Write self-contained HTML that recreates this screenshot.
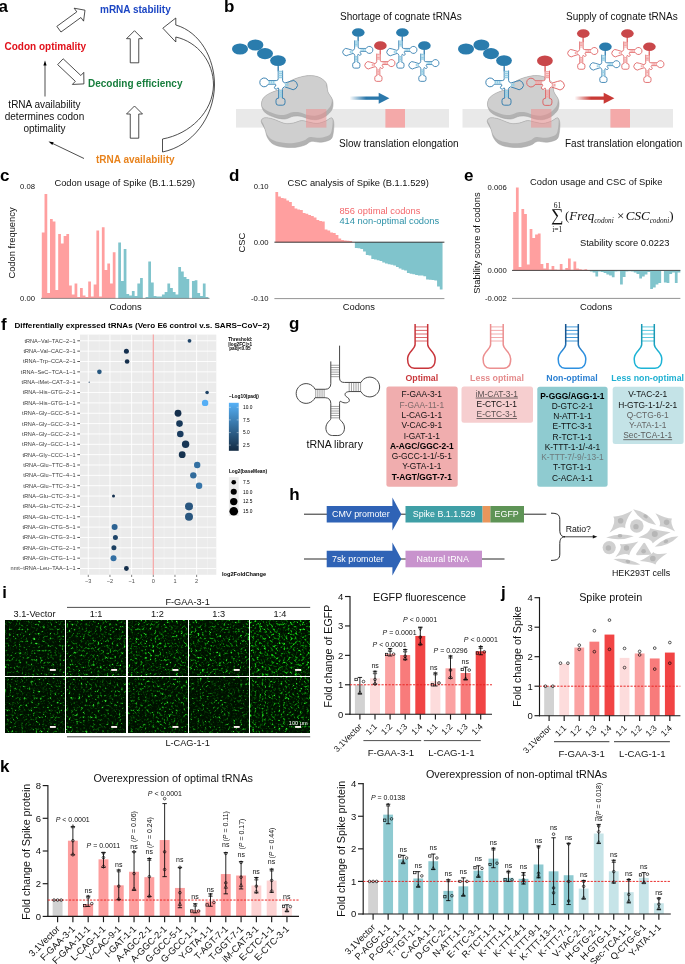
<!DOCTYPE html>
<html><head><meta charset="utf-8"><title>Figure</title>
<style>html,body{margin:0;padding:0;background:#fff;}svg{display:block}text{font-family:"Liberation Sans",sans-serif;}</style>
</head><body>
<svg width="685" height="964" viewBox="0 0 685 964">
<rect width="685" height="964" fill="#fff"/>
<text x="-1.50" y="12.00" font-size="17" font-weight="bold">a</text>
<text x="100.00" y="13.40" font-size="10" font-weight="bold" fill="#1c46c4">mRNA stability</text>
<text x="4.50" y="49.50" font-size="10" font-weight="bold" fill="#e1111b">Codon optimality</text>
<text x="88.00" y="86.60" font-size="10" font-weight="bold" fill="#167d3c">Decoding efficiency</text>
<text x="96.00" y="162.50" font-size="10" font-weight="bold" fill="#e8831d">tRNA availability</text>
<text x="44.50" y="108.40" font-size="10" fill="#111" text-anchor="middle">tRNA availability</text>
<text x="44.50" y="120.40" font-size="10" fill="#111" text-anchor="middle">determines codon</text>
<text x="44.50" y="132.40" font-size="10" fill="#111" text-anchor="middle">optimality</text>
<polygon points="60.96,32.03 80.92,17.50 83.56,21.14 85.00,10.20 74.15,8.21 76.80,11.84 56.84,26.37" fill="#fff" stroke="#222" stroke-width="0.8"/>
<polygon points="57.65,64.61 75.34,81.31 72.38,84.44 83.90,83.90 83.78,72.37 80.83,75.50 63.15,58.79" fill="#fff" stroke="#222" stroke-width="0.8"/>
<polygon points="138.75,62.80 138.75,38.70 142.50,38.70 134.50,30.70 126.50,38.70 130.25,38.70 130.25,62.80" fill="#fff" stroke="#222" stroke-width="0.8"/>
<polygon points="138.75,138.20 138.75,114.00 142.50,114.00 134.50,106.00 126.50,114.00 130.25,114.00 130.25,138.20" fill="#fff" stroke="#222" stroke-width="0.8"/>
<line x1="45.00" y1="96.50" x2="45.00" y2="64.50" stroke="#000" stroke-width="0.7"/>
<polygon points="45.00,60.50 46.60,65.50 43.40,65.50" fill="#000"/>
<line x1="84.00" y1="158.50" x2="52.11" y2="143.23" stroke="#000" stroke-width="0.7"/>
<polygon points="48.50,141.50 53.70,142.22 52.32,145.10" fill="#000"/>
<path d="M162.5,139 C190,134 213,112 213.5,85 C213.5,62 198,42 175.8,37 L175.8,42 L162.8,28.2 L175.8,18 L175.8,25 C200,32 214.5,58 214.5,85 C214,118 192,146 162.5,152 Z" fill="#fff" stroke="#222" stroke-width="0.8" stroke-linejoin="miter"/>
<text x="224.00" y="12.00" font-size="17" font-weight="bold">b</text>
<defs>
<linearGradient id="ribg" x1="0" y1="0" x2="0.25" y2="1"><stop offset="0" stop-color="#d0d0d0"/><stop offset="0.72" stop-color="#cccccc"/><stop offset="0.9" stop-color="#b4b4b4"/><stop offset="1" stop-color="#a8a8a8"/></linearGradient>
<linearGradient id="ribg2" x1="0" y1="0" x2="0.2" y2="1"><stop offset="0" stop-color="#cfcfcf"/><stop offset="0.7" stop-color="#cacaca"/><stop offset="0.92" stop-color="#b2b2b2"/><stop offset="1" stop-color="#a6a6a6"/></linearGradient>
<linearGradient id="barr" x1="0" y1="0" x2="1" y2="0"><stop offset="0" stop-color="#2b78ab" stop-opacity="0"/><stop offset="0.55" stop-color="#2b78ab" stop-opacity="1"/></linearGradient>
<linearGradient id="rarr" x1="0" y1="0" x2="1" y2="0"><stop offset="0" stop-color="#c93a36" stop-opacity="0"/><stop offset="0.55" stop-color="#c93a36" stop-opacity="1"/></linearGradient>
</defs>
<rect x="236.00" y="109.00" width="213.00" height="18.60" fill="#e9e9e9"/>
<clipPath id="rcbig0"><path d="M261.60,106.00C261.17,103.60 261.70,100.70 263.00,98.60C264.30,96.50 266.40,95.07 269.40,93.40C272.40,91.73 277.40,90.73 281.00,88.60C284.60,86.47 287.00,82.70 291.00,80.60C295.00,78.50 300.60,76.67 305.00,76.00C309.40,75.33 313.90,75.50 317.40,76.60C320.90,77.70 324.23,80.03 326.00,82.60C327.77,85.17 326.90,89.10 328.00,92.00C329.10,94.90 331.90,97.17 332.60,100.00C333.30,102.83 333.30,106.33 332.20,109.00C331.10,111.67 328.47,114.23 326.00,116.00C323.53,117.77 320.23,119.10 317.40,119.60C314.57,120.10 311.67,119.53 309.00,119.00C306.33,118.47 304.00,116.87 301.40,116.40C298.80,115.93 296.13,115.77 293.40,116.20C290.67,116.63 288.07,118.80 285.00,119.00C281.93,119.20 278.23,118.40 275.00,117.40C271.77,116.40 267.83,114.90 265.60,113.00C263.37,111.10 262.03,108.40 261.60,106.00Z"/></clipPath>
<path d="M261.60,106.00C261.17,103.60 261.70,100.70 263.00,98.60C264.30,96.50 266.40,95.07 269.40,93.40C272.40,91.73 277.40,90.73 281.00,88.60C284.60,86.47 287.00,82.70 291.00,80.60C295.00,78.50 300.60,76.67 305.00,76.00C309.40,75.33 313.90,75.50 317.40,76.60C320.90,77.70 324.23,80.03 326.00,82.60C327.77,85.17 326.90,89.10 328.00,92.00C329.10,94.90 331.90,97.17 332.60,100.00C333.30,102.83 333.30,106.33 332.20,109.00C331.10,111.67 328.47,114.23 326.00,116.00C323.53,117.77 320.23,119.10 317.40,119.60C314.57,120.10 311.67,119.53 309.00,119.00C306.33,118.47 304.00,116.87 301.40,116.40C298.80,115.93 296.13,115.77 293.40,116.20C290.67,116.63 288.07,118.80 285.00,119.00C281.93,119.20 278.23,118.40 275.00,117.40C271.77,116.40 267.83,114.90 265.60,113.00C263.37,111.10 262.03,108.40 261.60,106.00Z" fill="#b2b2b2"/>
<g clip-path="url(#rcbig0)"><path d="M261.60,106.00C261.17,103.60 261.70,100.70 263.00,98.60C264.30,96.50 266.40,95.07 269.40,93.40C272.40,91.73 277.40,90.73 281.00,88.60C284.60,86.47 287.00,82.70 291.00,80.60C295.00,78.50 300.60,76.67 305.00,76.00C309.40,75.33 313.90,75.50 317.40,76.60C320.90,77.70 324.23,80.03 326.00,82.60C327.77,85.17 326.90,89.10 328.00,92.00C329.10,94.90 331.90,97.17 332.60,100.00C333.30,102.83 333.30,106.33 332.20,109.00C331.10,111.67 328.47,114.23 326.00,116.00C323.53,117.77 320.23,119.10 317.40,119.60C314.57,120.10 311.67,119.53 309.00,119.00C306.33,118.47 304.00,116.87 301.40,116.40C298.80,115.93 296.13,115.77 293.40,116.20C290.67,116.63 288.07,118.80 285.00,119.00C281.93,119.20 278.23,118.40 275.00,117.40C271.77,116.40 267.83,114.90 265.60,113.00C263.37,111.10 262.03,108.40 261.60,106.00Z" fill="#cfcfcf" transform="translate(-1.2 -4.0)"/></g>
<path d="M261.60,106.00C261.17,103.60 261.70,100.70 263.00,98.60C264.30,96.50 266.40,95.07 269.40,93.40C272.40,91.73 277.40,90.73 281.00,88.60C284.60,86.47 287.00,82.70 291.00,80.60C295.00,78.50 300.60,76.67 305.00,76.00C309.40,75.33 313.90,75.50 317.40,76.60C320.90,77.70 324.23,80.03 326.00,82.60C327.77,85.17 326.90,89.10 328.00,92.00C329.10,94.90 331.90,97.17 332.60,100.00C333.30,102.83 333.30,106.33 332.20,109.00C331.10,111.67 328.47,114.23 326.00,116.00C323.53,117.77 320.23,119.10 317.40,119.60C314.57,120.10 311.67,119.53 309.00,119.00C306.33,118.47 304.00,116.87 301.40,116.40C298.80,115.93 296.13,115.77 293.40,116.20C290.67,116.63 288.07,118.80 285.00,119.00C281.93,119.20 278.23,118.40 275.00,117.40C271.77,116.40 267.83,114.90 265.60,113.00C263.37,111.10 262.03,108.40 261.60,106.00Z" fill="none" stroke="#a0a0a0" stroke-width="0.5"/>
<clipPath id="rcsmall0"><path d="M261.20,121.40C261.13,119.47 262.63,118.20 264.60,117.80C266.57,117.40 269.67,118.07 273.00,119.00C276.33,119.93 281.20,122.73 284.60,123.40C288.00,124.07 290.53,123.47 293.40,123.00C296.27,122.53 299.13,120.73 301.80,120.60C304.47,120.47 306.80,121.73 309.40,122.20C312.00,122.67 314.70,123.60 317.40,123.40C320.10,123.20 323.27,121.93 325.60,121.00C327.93,120.07 330.03,117.53 331.40,117.80C332.77,118.07 333.50,120.07 333.80,122.60C334.10,125.13 333.73,130.20 333.20,133.00C332.67,135.80 332.63,137.87 330.60,139.40C328.57,140.93 324.20,141.87 321.00,142.20C317.80,142.53 314.07,140.93 311.40,141.40C308.73,141.87 307.73,144.00 305.00,145.00C302.27,146.00 298.67,147.07 295.00,147.40C291.33,147.73 286.67,147.57 283.00,147.00C279.33,146.43 275.60,145.60 273.00,144.00C270.40,142.40 268.73,139.83 267.40,137.40C266.07,134.97 266.03,132.07 265.00,129.40C263.97,126.73 261.27,123.33 261.20,121.40Z"/></clipPath>
<path d="M261.20,121.40C261.13,119.47 262.63,118.20 264.60,117.80C266.57,117.40 269.67,118.07 273.00,119.00C276.33,119.93 281.20,122.73 284.60,123.40C288.00,124.07 290.53,123.47 293.40,123.00C296.27,122.53 299.13,120.73 301.80,120.60C304.47,120.47 306.80,121.73 309.40,122.20C312.00,122.67 314.70,123.60 317.40,123.40C320.10,123.20 323.27,121.93 325.60,121.00C327.93,120.07 330.03,117.53 331.40,117.80C332.77,118.07 333.50,120.07 333.80,122.60C334.10,125.13 333.73,130.20 333.20,133.00C332.67,135.80 332.63,137.87 330.60,139.40C328.57,140.93 324.20,141.87 321.00,142.20C317.80,142.53 314.07,140.93 311.40,141.40C308.73,141.87 307.73,144.00 305.00,145.00C302.27,146.00 298.67,147.07 295.00,147.40C291.33,147.73 286.67,147.57 283.00,147.00C279.33,146.43 275.60,145.60 273.00,144.00C270.40,142.40 268.73,139.83 267.40,137.40C266.07,134.97 266.03,132.07 265.00,129.40C263.97,126.73 261.27,123.33 261.20,121.40Z" fill="#b2b2b2"/>
<g clip-path="url(#rcsmall0)"><path d="M261.20,121.40C261.13,119.47 262.63,118.20 264.60,117.80C266.57,117.40 269.67,118.07 273.00,119.00C276.33,119.93 281.20,122.73 284.60,123.40C288.00,124.07 290.53,123.47 293.40,123.00C296.27,122.53 299.13,120.73 301.80,120.60C304.47,120.47 306.80,121.73 309.40,122.20C312.00,122.67 314.70,123.60 317.40,123.40C320.10,123.20 323.27,121.93 325.60,121.00C327.93,120.07 330.03,117.53 331.40,117.80C332.77,118.07 333.50,120.07 333.80,122.60C334.10,125.13 333.73,130.20 333.20,133.00C332.67,135.80 332.63,137.87 330.60,139.40C328.57,140.93 324.20,141.87 321.00,142.20C317.80,142.53 314.07,140.93 311.40,141.40C308.73,141.87 307.73,144.00 305.00,145.00C302.27,146.00 298.67,147.07 295.00,147.40C291.33,147.73 286.67,147.57 283.00,147.00C279.33,146.43 275.60,145.60 273.00,144.00C270.40,142.40 268.73,139.83 267.40,137.40C266.07,134.97 266.03,132.07 265.00,129.40C263.97,126.73 261.27,123.33 261.20,121.40Z" fill="#cfcfcf" transform="translate(-1.2 -4.4)"/></g>
<path d="M261.20,121.40C261.13,119.47 262.63,118.20 264.60,117.80C266.57,117.40 269.67,118.07 273.00,119.00C276.33,119.93 281.20,122.73 284.60,123.40C288.00,124.07 290.53,123.47 293.40,123.00C296.27,122.53 299.13,120.73 301.80,120.60C304.47,120.47 306.80,121.73 309.40,122.20C312.00,122.67 314.70,123.60 317.40,123.40C320.10,123.20 323.27,121.93 325.60,121.00C327.93,120.07 330.03,117.53 331.40,117.80C332.77,118.07 333.50,120.07 333.80,122.60C334.10,125.13 333.73,130.20 333.20,133.00C332.67,135.80 332.63,137.87 330.60,139.40C328.57,140.93 324.20,141.87 321.00,142.20C317.80,142.53 314.07,140.93 311.40,141.40C308.73,141.87 307.73,144.00 305.00,145.00C302.27,146.00 298.67,147.07 295.00,147.40C291.33,147.73 286.67,147.57 283.00,147.00C279.33,146.43 275.60,145.60 273.00,144.00C270.40,142.40 268.73,139.83 267.40,137.40C266.07,134.97 266.03,132.07 265.00,129.40C263.97,126.73 261.27,123.33 261.20,121.40Z" fill="none" stroke="#a0a0a0" stroke-width="0.5"/>
<ellipse cx="240.00" cy="49.00" rx="8.00" ry="5.60" fill="#2a7cad"/>
<ellipse cx="255.40" cy="45.00" rx="8.00" ry="5.60" fill="#2a7cad"/>
<ellipse cx="265.00" cy="53.60" rx="8.00" ry="5.60" fill="#2a7cad"/>
<g transform="translate(280.50 83.40) scale(1.0 1.0)">
<line x1="-2.30" y1="-20.00" x2="-2.30" y2="-12.00" stroke="#2b78ab" stroke-width="0.9"/>
<path d="M-2.3,-8 L2.1,-8 L2.1,-3 L5,-0.5 L5,3.5 L1.9,6 L-1.8,6 L-5.5,5.5 L-6,3 L-5.2,0.8 L-5.2,-2.8 L-2.3,-4 Z" fill="#fff"/>
<path d="M-2.3,-17.2 L-2.3,-4.6 Q-2.3,-2.8 -4.2,-2.8 L-12.3,-2.8 A4.4,4.4 0 1 0 -12.3,0.8 L-5.2,0.8 Q-3.6,1.4 -5.2,2.6 Q-7,4.4 -5.2,5.6 Q-3.8,6.2 -2.6,4.6 Q-1.8,4.2 -1.8,5.8 L-1.8,14.8 L-2.4,14.8 Q-4.5,14.9 -4.5,17 L-4.5,19.4 Q-4.5,21.8 -2.2,21.8 L2.2,21.8 Q4.5,21.8 4.5,19.4 L4.5,17 Q4.5,14.9 2.4,14.8 L1.9,14.8 L1.9,6 Q2,4.2 4,3.4 L9.6,5.2 A4.5,4.5 0 1 0 10.2,-2.2 L4.4,-0.4 Q2.1,-1.2 2.1,-3 L2.1,-12.9" fill="none" stroke="#2b78ab" stroke-width="0.9" stroke-linejoin="round"/>
<line x1="-0.10" y1="-12.60" x2="-0.10" y2="-5.00" stroke="#96d0e6" stroke-width="3.7" stroke-dasharray="1.5 0.45"/>
<line x1="0.05" y1="6.60" x2="0.05" y2="14.40" stroke="#96d0e6" stroke-width="3.0" stroke-dasharray="1.5 0.45"/>
<line x1="-11.90" y1="-1.00" x2="-5.40" y2="-1.00" stroke="#96d0e6" stroke-width="2.9" stroke-dasharray="1.5 0.45"/>
<line x1="4.40" y1="1.50" x2="8.60" y2="1.50" stroke="#96d0e6" stroke-width="2.6" stroke-dasharray="1.5 0.45"/>
<ellipse cx="-2.50" cy="-22.80" rx="7.90" ry="5.40" fill="#2a7cad"/>
</g>
<rect x="306.00" y="109.00" width="20.40" height="18.60" fill="#f08a8a" opacity="0.5"/>
<rect x="385.40" y="109.00" width="19.60" height="18.60" fill="#f4a9a9"/>
<rect x="349.60" y="96.50" width="30.00" height="3.30" fill="url(#barr)"/>
<polygon points="378.70,92.70 389.40,98.20 378.70,103.70" fill="#2b78ab"/>
<rect x="462.50" y="109.00" width="210.50" height="18.60" fill="#e9e9e9"/>
<clipPath id="rcbig226"><path d="M487.60,106.00C487.17,103.60 487.70,100.70 489.00,98.60C490.30,96.50 492.40,95.07 495.40,93.40C498.40,91.73 503.40,90.73 507.00,88.60C510.60,86.47 513.00,82.70 517.00,80.60C521.00,78.50 526.60,76.67 531.00,76.00C535.40,75.33 539.90,75.50 543.40,76.60C546.90,77.70 550.23,80.03 552.00,82.60C553.77,85.17 552.90,89.10 554.00,92.00C555.10,94.90 557.90,97.17 558.60,100.00C559.30,102.83 559.30,106.33 558.20,109.00C557.10,111.67 554.47,114.23 552.00,116.00C549.53,117.77 546.23,119.10 543.40,119.60C540.57,120.10 537.67,119.53 535.00,119.00C532.33,118.47 530.00,116.87 527.40,116.40C524.80,115.93 522.13,115.77 519.40,116.20C516.67,116.63 514.07,118.80 511.00,119.00C507.93,119.20 504.23,118.40 501.00,117.40C497.77,116.40 493.83,114.90 491.60,113.00C489.37,111.10 488.03,108.40 487.60,106.00Z"/></clipPath>
<path d="M487.60,106.00C487.17,103.60 487.70,100.70 489.00,98.60C490.30,96.50 492.40,95.07 495.40,93.40C498.40,91.73 503.40,90.73 507.00,88.60C510.60,86.47 513.00,82.70 517.00,80.60C521.00,78.50 526.60,76.67 531.00,76.00C535.40,75.33 539.90,75.50 543.40,76.60C546.90,77.70 550.23,80.03 552.00,82.60C553.77,85.17 552.90,89.10 554.00,92.00C555.10,94.90 557.90,97.17 558.60,100.00C559.30,102.83 559.30,106.33 558.20,109.00C557.10,111.67 554.47,114.23 552.00,116.00C549.53,117.77 546.23,119.10 543.40,119.60C540.57,120.10 537.67,119.53 535.00,119.00C532.33,118.47 530.00,116.87 527.40,116.40C524.80,115.93 522.13,115.77 519.40,116.20C516.67,116.63 514.07,118.80 511.00,119.00C507.93,119.20 504.23,118.40 501.00,117.40C497.77,116.40 493.83,114.90 491.60,113.00C489.37,111.10 488.03,108.40 487.60,106.00Z" fill="#b2b2b2"/>
<g clip-path="url(#rcbig226)"><path d="M487.60,106.00C487.17,103.60 487.70,100.70 489.00,98.60C490.30,96.50 492.40,95.07 495.40,93.40C498.40,91.73 503.40,90.73 507.00,88.60C510.60,86.47 513.00,82.70 517.00,80.60C521.00,78.50 526.60,76.67 531.00,76.00C535.40,75.33 539.90,75.50 543.40,76.60C546.90,77.70 550.23,80.03 552.00,82.60C553.77,85.17 552.90,89.10 554.00,92.00C555.10,94.90 557.90,97.17 558.60,100.00C559.30,102.83 559.30,106.33 558.20,109.00C557.10,111.67 554.47,114.23 552.00,116.00C549.53,117.77 546.23,119.10 543.40,119.60C540.57,120.10 537.67,119.53 535.00,119.00C532.33,118.47 530.00,116.87 527.40,116.40C524.80,115.93 522.13,115.77 519.40,116.20C516.67,116.63 514.07,118.80 511.00,119.00C507.93,119.20 504.23,118.40 501.00,117.40C497.77,116.40 493.83,114.90 491.60,113.00C489.37,111.10 488.03,108.40 487.60,106.00Z" fill="#cfcfcf" transform="translate(-1.2 -4.0)"/></g>
<path d="M487.60,106.00C487.17,103.60 487.70,100.70 489.00,98.60C490.30,96.50 492.40,95.07 495.40,93.40C498.40,91.73 503.40,90.73 507.00,88.60C510.60,86.47 513.00,82.70 517.00,80.60C521.00,78.50 526.60,76.67 531.00,76.00C535.40,75.33 539.90,75.50 543.40,76.60C546.90,77.70 550.23,80.03 552.00,82.60C553.77,85.17 552.90,89.10 554.00,92.00C555.10,94.90 557.90,97.17 558.60,100.00C559.30,102.83 559.30,106.33 558.20,109.00C557.10,111.67 554.47,114.23 552.00,116.00C549.53,117.77 546.23,119.10 543.40,119.60C540.57,120.10 537.67,119.53 535.00,119.00C532.33,118.47 530.00,116.87 527.40,116.40C524.80,115.93 522.13,115.77 519.40,116.20C516.67,116.63 514.07,118.80 511.00,119.00C507.93,119.20 504.23,118.40 501.00,117.40C497.77,116.40 493.83,114.90 491.60,113.00C489.37,111.10 488.03,108.40 487.60,106.00Z" fill="none" stroke="#a0a0a0" stroke-width="0.5"/>
<clipPath id="rcsmall226"><path d="M487.20,121.40C487.13,119.47 488.63,118.20 490.60,117.80C492.57,117.40 495.67,118.07 499.00,119.00C502.33,119.93 507.20,122.73 510.60,123.40C514.00,124.07 516.53,123.47 519.40,123.00C522.27,122.53 525.13,120.73 527.80,120.60C530.47,120.47 532.80,121.73 535.40,122.20C538.00,122.67 540.70,123.60 543.40,123.40C546.10,123.20 549.27,121.93 551.60,121.00C553.93,120.07 556.03,117.53 557.40,117.80C558.77,118.07 559.50,120.07 559.80,122.60C560.10,125.13 559.73,130.20 559.20,133.00C558.67,135.80 558.63,137.87 556.60,139.40C554.57,140.93 550.20,141.87 547.00,142.20C543.80,142.53 540.07,140.93 537.40,141.40C534.73,141.87 533.73,144.00 531.00,145.00C528.27,146.00 524.67,147.07 521.00,147.40C517.33,147.73 512.67,147.57 509.00,147.00C505.33,146.43 501.60,145.60 499.00,144.00C496.40,142.40 494.73,139.83 493.40,137.40C492.07,134.97 492.03,132.07 491.00,129.40C489.97,126.73 487.27,123.33 487.20,121.40Z"/></clipPath>
<path d="M487.20,121.40C487.13,119.47 488.63,118.20 490.60,117.80C492.57,117.40 495.67,118.07 499.00,119.00C502.33,119.93 507.20,122.73 510.60,123.40C514.00,124.07 516.53,123.47 519.40,123.00C522.27,122.53 525.13,120.73 527.80,120.60C530.47,120.47 532.80,121.73 535.40,122.20C538.00,122.67 540.70,123.60 543.40,123.40C546.10,123.20 549.27,121.93 551.60,121.00C553.93,120.07 556.03,117.53 557.40,117.80C558.77,118.07 559.50,120.07 559.80,122.60C560.10,125.13 559.73,130.20 559.20,133.00C558.67,135.80 558.63,137.87 556.60,139.40C554.57,140.93 550.20,141.87 547.00,142.20C543.80,142.53 540.07,140.93 537.40,141.40C534.73,141.87 533.73,144.00 531.00,145.00C528.27,146.00 524.67,147.07 521.00,147.40C517.33,147.73 512.67,147.57 509.00,147.00C505.33,146.43 501.60,145.60 499.00,144.00C496.40,142.40 494.73,139.83 493.40,137.40C492.07,134.97 492.03,132.07 491.00,129.40C489.97,126.73 487.27,123.33 487.20,121.40Z" fill="#b2b2b2"/>
<g clip-path="url(#rcsmall226)"><path d="M487.20,121.40C487.13,119.47 488.63,118.20 490.60,117.80C492.57,117.40 495.67,118.07 499.00,119.00C502.33,119.93 507.20,122.73 510.60,123.40C514.00,124.07 516.53,123.47 519.40,123.00C522.27,122.53 525.13,120.73 527.80,120.60C530.47,120.47 532.80,121.73 535.40,122.20C538.00,122.67 540.70,123.60 543.40,123.40C546.10,123.20 549.27,121.93 551.60,121.00C553.93,120.07 556.03,117.53 557.40,117.80C558.77,118.07 559.50,120.07 559.80,122.60C560.10,125.13 559.73,130.20 559.20,133.00C558.67,135.80 558.63,137.87 556.60,139.40C554.57,140.93 550.20,141.87 547.00,142.20C543.80,142.53 540.07,140.93 537.40,141.40C534.73,141.87 533.73,144.00 531.00,145.00C528.27,146.00 524.67,147.07 521.00,147.40C517.33,147.73 512.67,147.57 509.00,147.00C505.33,146.43 501.60,145.60 499.00,144.00C496.40,142.40 494.73,139.83 493.40,137.40C492.07,134.97 492.03,132.07 491.00,129.40C489.97,126.73 487.27,123.33 487.20,121.40Z" fill="#cfcfcf" transform="translate(-1.2 -4.4)"/></g>
<path d="M487.20,121.40C487.13,119.47 488.63,118.20 490.60,117.80C492.57,117.40 495.67,118.07 499.00,119.00C502.33,119.93 507.20,122.73 510.60,123.40C514.00,124.07 516.53,123.47 519.40,123.00C522.27,122.53 525.13,120.73 527.80,120.60C530.47,120.47 532.80,121.73 535.40,122.20C538.00,122.67 540.70,123.60 543.40,123.40C546.10,123.20 549.27,121.93 551.60,121.00C553.93,120.07 556.03,117.53 557.40,117.80C558.77,118.07 559.50,120.07 559.80,122.60C560.10,125.13 559.73,130.20 559.20,133.00C558.67,135.80 558.63,137.87 556.60,139.40C554.57,140.93 550.20,141.87 547.00,142.20C543.80,142.53 540.07,140.93 537.40,141.40C534.73,141.87 533.73,144.00 531.00,145.00C528.27,146.00 524.67,147.07 521.00,147.40C517.33,147.73 512.67,147.57 509.00,147.00C505.33,146.43 501.60,145.60 499.00,144.00C496.40,142.40 494.73,139.83 493.40,137.40C492.07,134.97 492.03,132.07 491.00,129.40C489.97,126.73 487.27,123.33 487.20,121.40Z" fill="none" stroke="#a0a0a0" stroke-width="0.5"/>
<ellipse cx="466.00" cy="49.00" rx="8.00" ry="5.60" fill="#2a7cad"/>
<ellipse cx="481.40" cy="45.00" rx="8.00" ry="5.60" fill="#2a7cad"/>
<ellipse cx="491.00" cy="53.60" rx="8.00" ry="5.60" fill="#2a7cad"/>
<g transform="translate(547.40 83.60) scale(1.0 1.0)">
<line x1="-2.30" y1="-20.00" x2="-2.30" y2="-12.00" stroke="#de5b5c" stroke-width="0.9"/>
<path d="M-2.3,-8 L2.1,-8 L2.1,-3 L5,-0.5 L5,3.5 L1.9,6 L-1.8,6 L-5.5,5.5 L-6,3 L-5.2,0.8 L-5.2,-2.8 L-2.3,-4 Z" fill="#fff"/>
<path d="M-2.3,-17.2 L-2.3,-4.6 Q-2.3,-2.8 -4.2,-2.8 L-12.3,-2.8 A4.4,4.4 0 1 0 -12.3,0.8 L-5.2,0.8 Q-3.6,1.4 -5.2,2.6 Q-7,4.4 -5.2,5.6 Q-3.8,6.2 -2.6,4.6 Q-1.8,4.2 -1.8,5.8 L-1.8,14.8 L-2.4,14.8 Q-4.5,14.9 -4.5,17 L-4.5,19.4 Q-4.5,21.8 -2.2,21.8 L2.2,21.8 Q4.5,21.8 4.5,19.4 L4.5,17 Q4.5,14.9 2.4,14.8 L1.9,14.8 L1.9,6 Q2,4.2 4,3.4 L9.6,5.2 A4.5,4.5 0 1 0 10.2,-2.2 L4.4,-0.4 Q2.1,-1.2 2.1,-3 L2.1,-12.9" fill="none" stroke="#de5b5c" stroke-width="0.9" stroke-linejoin="round"/>
<line x1="-0.10" y1="-12.60" x2="-0.10" y2="-5.00" stroke="#f3a9a9" stroke-width="3.7" stroke-dasharray="1.5 0.45"/>
<line x1="0.05" y1="6.60" x2="0.05" y2="14.40" stroke="#f3a9a9" stroke-width="3.0" stroke-dasharray="1.5 0.45"/>
<line x1="-11.90" y1="-1.00" x2="-5.40" y2="-1.00" stroke="#f3a9a9" stroke-width="2.9" stroke-dasharray="1.5 0.45"/>
<line x1="4.40" y1="1.50" x2="8.60" y2="1.50" stroke="#f3a9a9" stroke-width="2.6" stroke-dasharray="1.5 0.45"/>
<ellipse cx="-2.50" cy="-22.80" rx="7.90" ry="5.40" fill="#c9474a"/>
</g>
<g transform="translate(506.50 83.40) scale(1.0 1.0)">
<line x1="-2.30" y1="-20.00" x2="-2.30" y2="-12.00" stroke="#2b78ab" stroke-width="0.9"/>
<path d="M-2.3,-8 L2.1,-8 L2.1,-3 L5,-0.5 L5,3.5 L1.9,6 L-1.8,6 L-5.5,5.5 L-6,3 L-5.2,0.8 L-5.2,-2.8 L-2.3,-4 Z" fill="#fff"/>
<path d="M-2.3,-17.2 L-2.3,-4.6 Q-2.3,-2.8 -4.2,-2.8 L-12.3,-2.8 A4.4,4.4 0 1 0 -12.3,0.8 L-5.2,0.8 Q-3.6,1.4 -5.2,2.6 Q-7,4.4 -5.2,5.6 Q-3.8,6.2 -2.6,4.6 Q-1.8,4.2 -1.8,5.8 L-1.8,14.8 L-2.4,14.8 Q-4.5,14.9 -4.5,17 L-4.5,19.4 Q-4.5,21.8 -2.2,21.8 L2.2,21.8 Q4.5,21.8 4.5,19.4 L4.5,17 Q4.5,14.9 2.4,14.8 L1.9,14.8 L1.9,6 Q2,4.2 4,3.4 L9.6,5.2 A4.5,4.5 0 1 0 10.2,-2.2 L4.4,-0.4 Q2.1,-1.2 2.1,-3 L2.1,-12.9" fill="none" stroke="#2b78ab" stroke-width="0.9" stroke-linejoin="round"/>
<line x1="-0.10" y1="-12.60" x2="-0.10" y2="-5.00" stroke="#96d0e6" stroke-width="3.7" stroke-dasharray="1.5 0.45"/>
<line x1="0.05" y1="6.60" x2="0.05" y2="14.40" stroke="#96d0e6" stroke-width="3.0" stroke-dasharray="1.5 0.45"/>
<line x1="-11.90" y1="-1.00" x2="-5.40" y2="-1.00" stroke="#96d0e6" stroke-width="2.9" stroke-dasharray="1.5 0.45"/>
<line x1="4.40" y1="1.50" x2="8.60" y2="1.50" stroke="#96d0e6" stroke-width="2.6" stroke-dasharray="1.5 0.45"/>
<ellipse cx="-2.50" cy="-22.80" rx="7.90" ry="5.40" fill="#2a7cad"/>
</g>
<rect x="531.00" y="109.00" width="20.40" height="18.60" fill="#f08a8a" opacity="0.5"/>
<rect x="610.40" y="109.00" width="19.60" height="18.60" fill="#f4a9a9"/>
<rect x="574.60" y="96.50" width="30.00" height="3.30" fill="url(#rarr)"/>
<polygon points="603.70,92.70 614.40,98.20 603.70,103.70" fill="#c93a36"/>
<g transform="translate(356.30 50.70) scale(-0.8 0.8)">
<line x1="-2.30" y1="-20.00" x2="-2.30" y2="-12.00" stroke="#2b78ab" stroke-width="1.05"/>
<path d="M-2.3,-8 L2.1,-8 L2.1,-3 L5,-0.5 L5,3.5 L1.9,6 L-1.8,6 L-5.5,5.5 L-6,3 L-5.2,0.8 L-5.2,-2.8 L-2.3,-4 Z" fill="#fff"/>
<path d="M-2.3,-17.2 L-2.3,-4.6 Q-2.3,-2.8 -4.2,-2.8 L-12.3,-2.8 A4.4,4.4 0 1 0 -12.3,0.8 L-5.2,0.8 Q-3.6,1.4 -5.2,2.6 Q-7,4.4 -5.2,5.6 Q-3.8,6.2 -2.6,4.6 Q-1.8,4.2 -1.8,5.8 L-1.8,14.8 L-2.4,14.8 Q-4.5,14.9 -4.5,17 L-4.5,19.4 Q-4.5,21.8 -2.2,21.8 L2.2,21.8 Q4.5,21.8 4.5,19.4 L4.5,17 Q4.5,14.9 2.4,14.8 L1.9,14.8 L1.9,6 Q2,4.2 4,3.4 L9.6,5.2 A4.5,4.5 0 1 0 10.2,-2.2 L4.4,-0.4 Q2.1,-1.2 2.1,-3 L2.1,-12.9" fill="none" stroke="#2b78ab" stroke-width="1.05" stroke-linejoin="round"/>
<line x1="-0.10" y1="-12.60" x2="-0.10" y2="-5.00" stroke="#96d0e6" stroke-width="3.7" stroke-dasharray="1.5 0.45"/>
<line x1="0.05" y1="6.60" x2="0.05" y2="14.40" stroke="#96d0e6" stroke-width="3.0" stroke-dasharray="1.5 0.45"/>
<line x1="-11.90" y1="-1.00" x2="-5.40" y2="-1.00" stroke="#96d0e6" stroke-width="2.9" stroke-dasharray="1.5 0.45"/>
<line x1="4.40" y1="1.50" x2="8.60" y2="1.50" stroke="#96d0e6" stroke-width="2.6" stroke-dasharray="1.5 0.45"/>
<ellipse cx="-2.50" cy="-22.80" rx="7.90" ry="5.40" fill="#2a7cad"/>
</g>
<g transform="translate(378.40 63.90) scale(-0.8 0.8)">
<line x1="-2.30" y1="-20.00" x2="-2.30" y2="-12.00" stroke="#de5b5c" stroke-width="1.05"/>
<path d="M-2.3,-8 L2.1,-8 L2.1,-3 L5,-0.5 L5,3.5 L1.9,6 L-1.8,6 L-5.5,5.5 L-6,3 L-5.2,0.8 L-5.2,-2.8 L-2.3,-4 Z" fill="#fff"/>
<path d="M-2.3,-17.2 L-2.3,-4.6 Q-2.3,-2.8 -4.2,-2.8 L-12.3,-2.8 A4.4,4.4 0 1 0 -12.3,0.8 L-5.2,0.8 Q-3.6,1.4 -5.2,2.6 Q-7,4.4 -5.2,5.6 Q-3.8,6.2 -2.6,4.6 Q-1.8,4.2 -1.8,5.8 L-1.8,14.8 L-2.4,14.8 Q-4.5,14.9 -4.5,17 L-4.5,19.4 Q-4.5,21.8 -2.2,21.8 L2.2,21.8 Q4.5,21.8 4.5,19.4 L4.5,17 Q4.5,14.9 2.4,14.8 L1.9,14.8 L1.9,6 Q2,4.2 4,3.4 L9.6,5.2 A4.5,4.5 0 1 0 10.2,-2.2 L4.4,-0.4 Q2.1,-1.2 2.1,-3 L2.1,-12.9" fill="none" stroke="#de5b5c" stroke-width="1.05" stroke-linejoin="round"/>
<line x1="-0.10" y1="-12.60" x2="-0.10" y2="-5.00" stroke="#f3a9a9" stroke-width="3.7" stroke-dasharray="1.5 0.45"/>
<line x1="0.05" y1="6.60" x2="0.05" y2="14.40" stroke="#f3a9a9" stroke-width="3.0" stroke-dasharray="1.5 0.45"/>
<line x1="-11.90" y1="-1.00" x2="-5.40" y2="-1.00" stroke="#f3a9a9" stroke-width="2.9" stroke-dasharray="1.5 0.45"/>
<line x1="4.40" y1="1.50" x2="8.60" y2="1.50" stroke="#f3a9a9" stroke-width="2.6" stroke-dasharray="1.5 0.45"/>
<ellipse cx="-2.50" cy="-22.80" rx="7.90" ry="5.40" fill="#c9474a"/>
</g>
<g transform="translate(400.40 50.70) scale(-0.8 0.8)">
<line x1="-2.30" y1="-20.00" x2="-2.30" y2="-12.00" stroke="#2b78ab" stroke-width="1.05"/>
<path d="M-2.3,-8 L2.1,-8 L2.1,-3 L5,-0.5 L5,3.5 L1.9,6 L-1.8,6 L-5.5,5.5 L-6,3 L-5.2,0.8 L-5.2,-2.8 L-2.3,-4 Z" fill="#fff"/>
<path d="M-2.3,-17.2 L-2.3,-4.6 Q-2.3,-2.8 -4.2,-2.8 L-12.3,-2.8 A4.4,4.4 0 1 0 -12.3,0.8 L-5.2,0.8 Q-3.6,1.4 -5.2,2.6 Q-7,4.4 -5.2,5.6 Q-3.8,6.2 -2.6,4.6 Q-1.8,4.2 -1.8,5.8 L-1.8,14.8 L-2.4,14.8 Q-4.5,14.9 -4.5,17 L-4.5,19.4 Q-4.5,21.8 -2.2,21.8 L2.2,21.8 Q4.5,21.8 4.5,19.4 L4.5,17 Q4.5,14.9 2.4,14.8 L1.9,14.8 L1.9,6 Q2,4.2 4,3.4 L9.6,5.2 A4.5,4.5 0 1 0 10.2,-2.2 L4.4,-0.4 Q2.1,-1.2 2.1,-3 L2.1,-12.9" fill="none" stroke="#2b78ab" stroke-width="1.05" stroke-linejoin="round"/>
<line x1="-0.10" y1="-12.60" x2="-0.10" y2="-5.00" stroke="#96d0e6" stroke-width="3.7" stroke-dasharray="1.5 0.45"/>
<line x1="0.05" y1="6.60" x2="0.05" y2="14.40" stroke="#96d0e6" stroke-width="3.0" stroke-dasharray="1.5 0.45"/>
<line x1="-11.90" y1="-1.00" x2="-5.40" y2="-1.00" stroke="#96d0e6" stroke-width="2.9" stroke-dasharray="1.5 0.45"/>
<line x1="4.40" y1="1.50" x2="8.60" y2="1.50" stroke="#96d0e6" stroke-width="2.6" stroke-dasharray="1.5 0.45"/>
<ellipse cx="-2.50" cy="-22.80" rx="7.90" ry="5.40" fill="#2a7cad"/>
</g>
<g transform="translate(422.40 63.90) scale(-0.8 0.8)">
<line x1="-2.30" y1="-20.00" x2="-2.30" y2="-12.00" stroke="#2b78ab" stroke-width="1.05"/>
<path d="M-2.3,-8 L2.1,-8 L2.1,-3 L5,-0.5 L5,3.5 L1.9,6 L-1.8,6 L-5.5,5.5 L-6,3 L-5.2,0.8 L-5.2,-2.8 L-2.3,-4 Z" fill="#fff"/>
<path d="M-2.3,-17.2 L-2.3,-4.6 Q-2.3,-2.8 -4.2,-2.8 L-12.3,-2.8 A4.4,4.4 0 1 0 -12.3,0.8 L-5.2,0.8 Q-3.6,1.4 -5.2,2.6 Q-7,4.4 -5.2,5.6 Q-3.8,6.2 -2.6,4.6 Q-1.8,4.2 -1.8,5.8 L-1.8,14.8 L-2.4,14.8 Q-4.5,14.9 -4.5,17 L-4.5,19.4 Q-4.5,21.8 -2.2,21.8 L2.2,21.8 Q4.5,21.8 4.5,19.4 L4.5,17 Q4.5,14.9 2.4,14.8 L1.9,14.8 L1.9,6 Q2,4.2 4,3.4 L9.6,5.2 A4.5,4.5 0 1 0 10.2,-2.2 L4.4,-0.4 Q2.1,-1.2 2.1,-3 L2.1,-12.9" fill="none" stroke="#2b78ab" stroke-width="1.05" stroke-linejoin="round"/>
<line x1="-0.10" y1="-12.60" x2="-0.10" y2="-5.00" stroke="#96d0e6" stroke-width="3.7" stroke-dasharray="1.5 0.45"/>
<line x1="0.05" y1="6.60" x2="0.05" y2="14.40" stroke="#96d0e6" stroke-width="3.0" stroke-dasharray="1.5 0.45"/>
<line x1="-11.90" y1="-1.00" x2="-5.40" y2="-1.00" stroke="#96d0e6" stroke-width="2.9" stroke-dasharray="1.5 0.45"/>
<line x1="4.40" y1="1.50" x2="8.60" y2="1.50" stroke="#96d0e6" stroke-width="2.6" stroke-dasharray="1.5 0.45"/>
<ellipse cx="-2.50" cy="-22.80" rx="7.90" ry="5.40" fill="#2a7cad"/>
</g>
<g transform="translate(581.30 51.80) scale(-0.8 0.8)">
<line x1="-2.30" y1="-20.00" x2="-2.30" y2="-12.00" stroke="#de5b5c" stroke-width="1.05"/>
<path d="M-2.3,-8 L2.1,-8 L2.1,-3 L5,-0.5 L5,3.5 L1.9,6 L-1.8,6 L-5.5,5.5 L-6,3 L-5.2,0.8 L-5.2,-2.8 L-2.3,-4 Z" fill="#fff"/>
<path d="M-2.3,-17.2 L-2.3,-4.6 Q-2.3,-2.8 -4.2,-2.8 L-12.3,-2.8 A4.4,4.4 0 1 0 -12.3,0.8 L-5.2,0.8 Q-3.6,1.4 -5.2,2.6 Q-7,4.4 -5.2,5.6 Q-3.8,6.2 -2.6,4.6 Q-1.8,4.2 -1.8,5.8 L-1.8,14.8 L-2.4,14.8 Q-4.5,14.9 -4.5,17 L-4.5,19.4 Q-4.5,21.8 -2.2,21.8 L2.2,21.8 Q4.5,21.8 4.5,19.4 L4.5,17 Q4.5,14.9 2.4,14.8 L1.9,14.8 L1.9,6 Q2,4.2 4,3.4 L9.6,5.2 A4.5,4.5 0 1 0 10.2,-2.2 L4.4,-0.4 Q2.1,-1.2 2.1,-3 L2.1,-12.9" fill="none" stroke="#de5b5c" stroke-width="1.05" stroke-linejoin="round"/>
<line x1="-0.10" y1="-12.60" x2="-0.10" y2="-5.00" stroke="#f3a9a9" stroke-width="3.7" stroke-dasharray="1.5 0.45"/>
<line x1="0.05" y1="6.60" x2="0.05" y2="14.40" stroke="#f3a9a9" stroke-width="3.0" stroke-dasharray="1.5 0.45"/>
<line x1="-11.90" y1="-1.00" x2="-5.40" y2="-1.00" stroke="#f3a9a9" stroke-width="2.9" stroke-dasharray="1.5 0.45"/>
<line x1="4.40" y1="1.50" x2="8.60" y2="1.50" stroke="#f3a9a9" stroke-width="2.6" stroke-dasharray="1.5 0.45"/>
<ellipse cx="-2.50" cy="-22.80" rx="7.90" ry="5.40" fill="#c9474a"/>
</g>
<g transform="translate(603.40 65.00) scale(-0.8 0.8)">
<line x1="-2.30" y1="-20.00" x2="-2.30" y2="-12.00" stroke="#2b78ab" stroke-width="1.05"/>
<path d="M-2.3,-8 L2.1,-8 L2.1,-3 L5,-0.5 L5,3.5 L1.9,6 L-1.8,6 L-5.5,5.5 L-6,3 L-5.2,0.8 L-5.2,-2.8 L-2.3,-4 Z" fill="#fff"/>
<path d="M-2.3,-17.2 L-2.3,-4.6 Q-2.3,-2.8 -4.2,-2.8 L-12.3,-2.8 A4.4,4.4 0 1 0 -12.3,0.8 L-5.2,0.8 Q-3.6,1.4 -5.2,2.6 Q-7,4.4 -5.2,5.6 Q-3.8,6.2 -2.6,4.6 Q-1.8,4.2 -1.8,5.8 L-1.8,14.8 L-2.4,14.8 Q-4.5,14.9 -4.5,17 L-4.5,19.4 Q-4.5,21.8 -2.2,21.8 L2.2,21.8 Q4.5,21.8 4.5,19.4 L4.5,17 Q4.5,14.9 2.4,14.8 L1.9,14.8 L1.9,6 Q2,4.2 4,3.4 L9.6,5.2 A4.5,4.5 0 1 0 10.2,-2.2 L4.4,-0.4 Q2.1,-1.2 2.1,-3 L2.1,-12.9" fill="none" stroke="#2b78ab" stroke-width="1.05" stroke-linejoin="round"/>
<line x1="-0.10" y1="-12.60" x2="-0.10" y2="-5.00" stroke="#96d0e6" stroke-width="3.7" stroke-dasharray="1.5 0.45"/>
<line x1="0.05" y1="6.60" x2="0.05" y2="14.40" stroke="#96d0e6" stroke-width="3.0" stroke-dasharray="1.5 0.45"/>
<line x1="-11.90" y1="-1.00" x2="-5.40" y2="-1.00" stroke="#96d0e6" stroke-width="2.9" stroke-dasharray="1.5 0.45"/>
<line x1="4.40" y1="1.50" x2="8.60" y2="1.50" stroke="#96d0e6" stroke-width="2.6" stroke-dasharray="1.5 0.45"/>
<ellipse cx="-2.50" cy="-22.80" rx="7.90" ry="5.40" fill="#2a7cad"/>
</g>
<g transform="translate(625.40 51.80) scale(-0.8 0.8)">
<line x1="-2.30" y1="-20.00" x2="-2.30" y2="-12.00" stroke="#de5b5c" stroke-width="1.05"/>
<path d="M-2.3,-8 L2.1,-8 L2.1,-3 L5,-0.5 L5,3.5 L1.9,6 L-1.8,6 L-5.5,5.5 L-6,3 L-5.2,0.8 L-5.2,-2.8 L-2.3,-4 Z" fill="#fff"/>
<path d="M-2.3,-17.2 L-2.3,-4.6 Q-2.3,-2.8 -4.2,-2.8 L-12.3,-2.8 A4.4,4.4 0 1 0 -12.3,0.8 L-5.2,0.8 Q-3.6,1.4 -5.2,2.6 Q-7,4.4 -5.2,5.6 Q-3.8,6.2 -2.6,4.6 Q-1.8,4.2 -1.8,5.8 L-1.8,14.8 L-2.4,14.8 Q-4.5,14.9 -4.5,17 L-4.5,19.4 Q-4.5,21.8 -2.2,21.8 L2.2,21.8 Q4.5,21.8 4.5,19.4 L4.5,17 Q4.5,14.9 2.4,14.8 L1.9,14.8 L1.9,6 Q2,4.2 4,3.4 L9.6,5.2 A4.5,4.5 0 1 0 10.2,-2.2 L4.4,-0.4 Q2.1,-1.2 2.1,-3 L2.1,-12.9" fill="none" stroke="#de5b5c" stroke-width="1.05" stroke-linejoin="round"/>
<line x1="-0.10" y1="-12.60" x2="-0.10" y2="-5.00" stroke="#f3a9a9" stroke-width="3.7" stroke-dasharray="1.5 0.45"/>
<line x1="0.05" y1="6.60" x2="0.05" y2="14.40" stroke="#f3a9a9" stroke-width="3.0" stroke-dasharray="1.5 0.45"/>
<line x1="-11.90" y1="-1.00" x2="-5.40" y2="-1.00" stroke="#f3a9a9" stroke-width="2.9" stroke-dasharray="1.5 0.45"/>
<line x1="4.40" y1="1.50" x2="8.60" y2="1.50" stroke="#f3a9a9" stroke-width="2.6" stroke-dasharray="1.5 0.45"/>
<ellipse cx="-2.50" cy="-22.80" rx="7.90" ry="5.40" fill="#c9474a"/>
</g>
<g transform="translate(647.40 65.00) scale(-0.8 0.8)">
<line x1="-2.30" y1="-20.00" x2="-2.30" y2="-12.00" stroke="#de5b5c" stroke-width="1.05"/>
<path d="M-2.3,-8 L2.1,-8 L2.1,-3 L5,-0.5 L5,3.5 L1.9,6 L-1.8,6 L-5.5,5.5 L-6,3 L-5.2,0.8 L-5.2,-2.8 L-2.3,-4 Z" fill="#fff"/>
<path d="M-2.3,-17.2 L-2.3,-4.6 Q-2.3,-2.8 -4.2,-2.8 L-12.3,-2.8 A4.4,4.4 0 1 0 -12.3,0.8 L-5.2,0.8 Q-3.6,1.4 -5.2,2.6 Q-7,4.4 -5.2,5.6 Q-3.8,6.2 -2.6,4.6 Q-1.8,4.2 -1.8,5.8 L-1.8,14.8 L-2.4,14.8 Q-4.5,14.9 -4.5,17 L-4.5,19.4 Q-4.5,21.8 -2.2,21.8 L2.2,21.8 Q4.5,21.8 4.5,19.4 L4.5,17 Q4.5,14.9 2.4,14.8 L1.9,14.8 L1.9,6 Q2,4.2 4,3.4 L9.6,5.2 A4.5,4.5 0 1 0 10.2,-2.2 L4.4,-0.4 Q2.1,-1.2 2.1,-3 L2.1,-12.9" fill="none" stroke="#de5b5c" stroke-width="1.05" stroke-linejoin="round"/>
<line x1="-0.10" y1="-12.60" x2="-0.10" y2="-5.00" stroke="#f3a9a9" stroke-width="3.7" stroke-dasharray="1.5 0.45"/>
<line x1="0.05" y1="6.60" x2="0.05" y2="14.40" stroke="#f3a9a9" stroke-width="3.0" stroke-dasharray="1.5 0.45"/>
<line x1="-11.90" y1="-1.00" x2="-5.40" y2="-1.00" stroke="#f3a9a9" stroke-width="2.9" stroke-dasharray="1.5 0.45"/>
<line x1="4.40" y1="1.50" x2="8.60" y2="1.50" stroke="#f3a9a9" stroke-width="2.6" stroke-dasharray="1.5 0.45"/>
<ellipse cx="-2.50" cy="-22.80" rx="7.90" ry="5.40" fill="#c9474a"/>
</g>
<text x="340.00" y="20.40" font-size="10" fill="#111">Shortage of cognate tRNAs</text>
<text x="339.00" y="146.50" font-size="10" fill="#111">Slow translation elongation</text>
<text x="566.00" y="20.40" font-size="10" fill="#111">Supply of cognate tRNAs</text>
<text x="565.00" y="146.50" font-size="10" fill="#111">Fast translation elongation</text>
<text x="0.00" y="180.60" font-size="17" font-weight="bold">c</text>
<text x="54.40" y="185.60" font-size="9.35" fill="#111">Codon usage of Spike (B.1.1.529)</text>
<text x="20.00" y="189.20" font-size="7.7" fill="#111">0.08</text>
<text x="20.00" y="301.20" font-size="7.7" fill="#111">0.00</text>
<text x="15.00" y="243.00" font-size="9.35" fill="#111" text-anchor="middle" transform="rotate(-90 15.00 243.00)">Codon frequency</text>
<text x="125.60" y="310.00" font-size="9.35" fill="#111" text-anchor="middle">Codons</text>
<path d="M41.80,298.40L41.80,232.60L44.53,232.60L44.53,194.00L47.26,194.00L47.26,293.00L49.99,293.00L49.99,219.00L52.72,219.00L52.72,221.60L55.45,221.60L55.45,290.00L58.18,290.00L58.18,234.00L60.91,234.00L60.91,243.60L63.64,243.60L63.64,236.00L66.37,236.00L66.37,234.00L69.10,234.00L69.10,285.60L71.83,285.60L71.83,294.60L74.56,294.60L74.56,283.40L77.29,283.40L77.29,297.00L80.02,297.00L80.02,288.00L82.75,288.00L82.75,295.40L85.48,295.40L85.48,297.00L88.21,297.00L88.21,281.40L90.94,281.40L90.94,296.60L93.67,296.60L93.67,284.60L96.40,284.60L96.40,230.40L99.13,230.40L99.13,296.60L101.86,296.60L101.86,227.20L104.59,227.20L104.59,270.00L107.32,270.00L107.32,263.40L110.05,263.40L110.05,283.40L112.78,283.40L112.78,252.20L115.51,252.20L115.51,298.40Z" fill="#ff9f9f"/>
<path d="M118.24,298.40L118.24,242.40L120.97,242.40L120.97,281.00L123.70,281.00L123.70,249.00L126.43,249.00L126.43,294.00L129.16,294.00L129.16,295.40L131.89,295.40L131.89,291.00L134.62,291.00L134.62,296.00L137.35,296.00L137.35,283.40L140.08,283.40L140.08,278.00L142.81,278.00L142.81,298.20L145.54,298.20L145.54,297.00L148.27,297.00L148.27,261.40L151.00,261.40L151.00,282.40L153.73,282.40L153.73,296.00L156.46,296.00L156.46,296.60L159.19,296.60L159.19,296.40L161.92,296.40L161.92,294.60L164.65,294.60L164.65,292.00L167.38,292.00L167.38,283.40L170.11,283.40L170.11,288.00L172.84,288.00L172.84,292.00L175.57,292.00L175.57,294.60L178.30,294.60L178.30,267.00L181.03,267.00L181.03,271.40L183.76,271.40L183.76,277.00L186.49,277.00L186.49,279.00L189.22,279.00L189.22,298.40L191.95,298.40L191.95,281.00L194.68,281.00L194.68,280.20L197.41,280.20L197.41,293.00L200.14,293.00L200.14,296.00L202.87,296.00L202.87,283.40L205.60,283.40L205.60,297.00L208.33,297.00L208.33,298.40Z" fill="#80c4cc"/>
<line x1="41.00" y1="298.40" x2="209.50" y2="298.40" stroke="#777" stroke-width="0.8"/>
<text x="229.00" y="180.60" font-size="17" font-weight="bold">d</text>
<text x="287.60" y="185.60" font-size="9.35" fill="#111">CSC analysis of Spike (B.1.1.529)</text>
<text x="268.60" y="188.80" font-size="7.7" fill="#111" text-anchor="end">0.10</text>
<text x="268.60" y="244.80" font-size="7.7" fill="#111" text-anchor="end">0.00</text>
<text x="268.60" y="301.20" font-size="7.7" fill="#111" text-anchor="end">-0.10</text>
<text x="245.00" y="242.60" font-size="9.35" fill="#111" text-anchor="middle" transform="rotate(-90 245.00 242.60)">CSC</text>
<text x="358.80" y="310.00" font-size="9.35" fill="#111" text-anchor="middle">Codons</text>
<text x="339.40" y="213.60" font-size="9.35" fill="#f3686c">856 optimal codons</text>
<text x="339.40" y="224.40" font-size="9.35" fill="#2e92a8">414 non-optimal codons</text>
<path d="M275.40,242.20L275.40,192.00L278.14,192.00L278.14,196.40L280.88,196.40L280.88,198.00L283.62,198.00L283.62,198.40L286.36,198.40L286.36,200.60L289.10,200.60L289.10,202.00L291.84,202.00L291.84,206.00L294.58,206.00L294.58,208.40L297.32,208.40L297.32,209.40L300.06,209.40L300.06,210.00L302.80,210.00L302.80,213.00L305.54,213.00L305.54,213.80L308.28,213.80L308.28,215.00L311.02,215.00L311.02,216.00L313.76,216.00L313.76,217.40L316.50,217.40L316.50,220.00L319.24,220.00L319.24,221.00L321.98,221.00L321.98,221.40L324.72,221.40L324.72,229.40L327.46,229.40L327.46,230.40L330.20,230.40L330.20,232.40L332.94,232.40L332.94,233.00L335.68,233.00L335.68,235.00L338.42,235.00L338.42,238.60L341.16,238.60L341.16,240.00L343.90,240.00L343.90,240.60L346.64,240.60L346.64,240.80L349.38,240.80L349.38,241.00L352.12,241.00L352.12,242.20Z" fill="#ff9f9f"/>
<path d="M354.86,242.20L354.86,248.00L357.60,248.00L357.60,248.20L360.34,248.20L360.34,249.00L363.08,249.00L363.08,251.40L365.82,251.40L365.82,255.00L368.56,255.00L368.56,255.40L371.30,255.40L371.30,259.00L374.04,259.00L374.04,259.60L376.78,259.60L376.78,260.20L379.52,260.20L379.52,261.00L382.26,261.00L382.26,262.40L385.00,262.40L385.00,263.40L387.74,263.40L387.74,264.20L390.48,264.20L390.48,264.80L393.22,264.80L393.22,265.40L395.96,265.40L395.96,267.00L398.70,267.00L398.70,268.60L401.44,268.60L401.44,269.80L404.18,269.80L404.18,270.40L406.92,270.40L406.92,273.00L409.66,273.00L409.66,273.80L412.40,273.80L412.40,274.20L415.14,274.20L415.14,275.00L417.88,275.00L417.88,275.40L420.62,275.40L420.62,275.60L423.36,275.60L423.36,276.20L426.10,276.20L426.10,279.40L428.84,279.40L428.84,279.80L431.58,279.80L431.58,280.00L434.32,280.00L434.32,280.40L437.06,280.40L437.06,286.60L439.80,286.60L439.80,289.60L442.54,289.60L442.54,242.20Z" fill="#80c4cc"/>
<line x1="274.40" y1="242.20" x2="444.40" y2="242.20" stroke="#222" stroke-width="0.9"/>
<line x1="274.40" y1="298.60" x2="444.40" y2="298.60" stroke="#777" stroke-width="0.8"/>
<text x="464.00" y="180.60" font-size="17" font-weight="bold">e</text>
<text x="530.00" y="185.00" font-size="9.35" fill="#111">Codon usage and CSC of Spike</text>
<text x="506.80" y="190.00" font-size="7.7" fill="#111" text-anchor="end">0.006</text>
<text x="506.80" y="273.00" font-size="7.7" fill="#111" text-anchor="end">0.000</text>
<text x="506.80" y="301.20" font-size="7.7" fill="#111" text-anchor="end">-0.002</text>
<text x="480.00" y="243.00" font-size="9.35" fill="#111" text-anchor="middle" transform="rotate(-90 480.00 243.00)">Stability score of codons</text>
<text x="596.00" y="310.00" font-size="9.35" fill="#111" text-anchor="middle">Codons</text>
<text x="580.00" y="246.00" font-size="9.35" fill="#111">Stability score 0.0223</text>
<path d="M513.20,270.40L513.20,212.00L515.94,212.00L515.94,187.60L518.68,187.60L518.68,267.00L521.42,267.00L521.42,209.00L524.16,209.00L524.16,214.00L526.90,214.00L526.90,264.40L529.64,264.40L529.64,229.00L532.38,229.00L532.38,238.00L535.12,238.00L535.12,234.40L537.86,234.40L537.86,233.40L540.60,233.40L540.60,264.00L543.34,264.00L543.34,268.60L546.08,268.60L546.08,263.00L548.82,263.00L548.82,269.40L551.56,269.40L551.56,266.00L554.30,266.00L554.30,269.40L557.04,269.40L557.04,269.80L559.78,269.80L559.78,264.00L562.52,264.00L562.52,269.80L565.26,269.80L565.26,268.00L568.00,268.00L568.00,258.60L570.74,258.60L570.74,269.80L573.48,269.80L573.48,261.40L576.22,261.40L576.22,268.60L578.96,268.60L578.96,269.20L581.70,269.20L581.70,269.80L584.44,269.80L584.44,269.20L587.18,269.20L587.18,270.00L589.92,270.00L589.92,270.40Z" fill="#ff9f9f"/>
<path d="M589.92,270.40L589.92,271.60L592.66,271.60L592.66,272.60L595.40,272.60L595.40,276.40L598.14,276.40L598.14,271.60L600.88,271.60L600.88,272.00L603.62,272.00L603.62,273.00L606.36,273.00L606.36,274.40L609.10,274.40L609.10,275.60L611.84,275.60L611.84,277.20L614.58,277.20L614.58,271.60L617.32,271.60L617.32,271.20L620.06,271.20L620.06,284.40L622.80,284.40L622.80,277.00L625.54,277.00L625.54,271.40L628.28,271.40L628.28,271.20L631.02,271.20L631.02,271.60L633.76,271.60L633.76,272.40L636.50,272.40L636.50,274.00L639.24,274.00L639.24,278.40L641.98,278.40L641.98,276.40L644.72,276.40L644.72,274.60L647.46,274.60L647.46,272.00L650.20,272.00L650.20,289.00L652.94,289.00L652.94,287.40L655.68,287.40L655.68,284.40L658.42,284.40L658.42,283.00L661.16,283.00L661.16,271.00L663.90,271.00L663.90,282.60L666.64,282.60L666.64,283.00L669.38,283.00L669.38,274.00L672.12,274.00L672.12,272.60L674.86,272.60L674.86,283.00L677.60,283.00L677.60,272.60L680.34,272.60L680.34,270.40Z" fill="#80c4cc"/>
<line x1="512.00" y1="270.40" x2="680.40" y2="270.40" stroke="#333" stroke-width="0.9"/>
<line x1="512.00" y1="298.40" x2="680.40" y2="298.40" stroke="#777" stroke-width="0.8"/>
<text x="557.30" y="220.80" font-size="17.5" fill="#111" text-anchor="middle" style="font-family:Liberation Serif, serif">∑</text>
<text x="557.40" y="208.00" font-size="7.5" fill="#111" text-anchor="middle" style="font-family:Liberation Serif, serif">61</text>
<text x="557.20" y="232.30" font-size="7.5" fill="#111" text-anchor="middle" style="font-family:Liberation Serif, serif">i=1</text>
<text x="565" y="220" font-size="13" style="font-family:Liberation Serif,serif" font-style="italic" fill="#111"><tspan font-style="normal">(</tspan>Freq<tspan font-size="7.2" dy="3">codoni</tspan><tspan dy="-3" font-style="normal"> ×</tspan><tspan dx="1.5">CSC</tspan><tspan font-size="7.2" dy="3">codoni</tspan><tspan dy="-3" font-style="normal">)</tspan></text>
<text x="1.00" y="330.00" font-size="17" font-weight="bold">f</text>
<text x="14.40" y="328.30" font-size="8.1" font-weight="bold">Differentially expressed tRNAs (Vero E6 control v.s. SARS−CoV−2)</text>
<rect x="80.00" y="334.60" width="136.30" height="240.20" fill="#ebebeb"/>
<line x1="99.12" y1="334.60" x2="99.12" y2="574.80" stroke="#f6f6f6" stroke-width="0.45"/>
<line x1="120.80" y1="334.60" x2="120.80" y2="574.80" stroke="#f6f6f6" stroke-width="0.45"/>
<line x1="142.47" y1="334.60" x2="142.47" y2="574.80" stroke="#f6f6f6" stroke-width="0.45"/>
<line x1="164.14" y1="334.60" x2="164.14" y2="574.80" stroke="#f6f6f6" stroke-width="0.45"/>
<line x1="185.81" y1="334.60" x2="185.81" y2="574.80" stroke="#f6f6f6" stroke-width="0.45"/>
<line x1="207.48" y1="334.60" x2="207.48" y2="574.80" stroke="#f6f6f6" stroke-width="0.45"/>
<line x1="88.29" y1="334.60" x2="88.29" y2="574.80" stroke="#fff" stroke-width="0.9"/>
<line x1="109.96" y1="334.60" x2="109.96" y2="574.80" stroke="#fff" stroke-width="0.9"/>
<line x1="131.63" y1="334.60" x2="131.63" y2="574.80" stroke="#fff" stroke-width="0.9"/>
<line x1="153.30" y1="334.60" x2="153.30" y2="574.80" stroke="#fff" stroke-width="0.9"/>
<line x1="174.97" y1="334.60" x2="174.97" y2="574.80" stroke="#fff" stroke-width="0.9"/>
<line x1="196.64" y1="334.60" x2="196.64" y2="574.80" stroke="#fff" stroke-width="0.9"/>
<line x1="80.00" y1="340.80" x2="216.30" y2="340.80" stroke="#fff" stroke-width="0.9"/>
<line x1="80.00" y1="351.15" x2="216.30" y2="351.15" stroke="#fff" stroke-width="0.9"/>
<line x1="80.00" y1="361.50" x2="216.30" y2="361.50" stroke="#fff" stroke-width="0.9"/>
<line x1="80.00" y1="371.85" x2="216.30" y2="371.85" stroke="#fff" stroke-width="0.9"/>
<line x1="80.00" y1="382.20" x2="216.30" y2="382.20" stroke="#fff" stroke-width="0.9"/>
<line x1="80.00" y1="392.55" x2="216.30" y2="392.55" stroke="#fff" stroke-width="0.9"/>
<line x1="80.00" y1="402.90" x2="216.30" y2="402.90" stroke="#fff" stroke-width="0.9"/>
<line x1="80.00" y1="413.25" x2="216.30" y2="413.25" stroke="#fff" stroke-width="0.9"/>
<line x1="80.00" y1="423.60" x2="216.30" y2="423.60" stroke="#fff" stroke-width="0.9"/>
<line x1="80.00" y1="433.95" x2="216.30" y2="433.95" stroke="#fff" stroke-width="0.9"/>
<line x1="80.00" y1="444.30" x2="216.30" y2="444.30" stroke="#fff" stroke-width="0.9"/>
<line x1="80.00" y1="454.65" x2="216.30" y2="454.65" stroke="#fff" stroke-width="0.9"/>
<line x1="80.00" y1="465.00" x2="216.30" y2="465.00" stroke="#fff" stroke-width="0.9"/>
<line x1="80.00" y1="475.35" x2="216.30" y2="475.35" stroke="#fff" stroke-width="0.9"/>
<line x1="80.00" y1="485.70" x2="216.30" y2="485.70" stroke="#fff" stroke-width="0.9"/>
<line x1="80.00" y1="496.05" x2="216.30" y2="496.05" stroke="#fff" stroke-width="0.9"/>
<line x1="80.00" y1="506.40" x2="216.30" y2="506.40" stroke="#fff" stroke-width="0.9"/>
<line x1="80.00" y1="516.75" x2="216.30" y2="516.75" stroke="#fff" stroke-width="0.9"/>
<line x1="80.00" y1="527.10" x2="216.30" y2="527.10" stroke="#fff" stroke-width="0.9"/>
<line x1="80.00" y1="537.45" x2="216.30" y2="537.45" stroke="#fff" stroke-width="0.9"/>
<line x1="80.00" y1="547.80" x2="216.30" y2="547.80" stroke="#fff" stroke-width="0.9"/>
<line x1="80.00" y1="558.15" x2="216.30" y2="558.15" stroke="#fff" stroke-width="0.9"/>
<line x1="80.00" y1="568.50" x2="216.30" y2="568.50" stroke="#fff" stroke-width="0.9"/>
<line x1="153.30" y1="334.60" x2="153.30" y2="574.80" stroke="#f4a3a3" stroke-width="1.2"/>
<text x="75.60" y="342.70" font-size="5.6" fill="#3a3a3a" text-anchor="end">tRNA−Val−TAC−2−1</text>
<line x1="77.30" y1="340.80" x2="80.00" y2="340.80" stroke="#333" stroke-width="0.8"/>
<text x="75.60" y="353.05" font-size="5.6" fill="#3a3a3a" text-anchor="end">tRNA−Val−CAC−3−1</text>
<line x1="77.30" y1="351.15" x2="80.00" y2="351.15" stroke="#333" stroke-width="0.8"/>
<text x="75.60" y="363.40" font-size="5.6" fill="#3a3a3a" text-anchor="end">tRNA−Trp−CCA−2−1</text>
<line x1="77.30" y1="361.50" x2="80.00" y2="361.50" stroke="#333" stroke-width="0.8"/>
<text x="75.60" y="373.75" font-size="5.6" fill="#3a3a3a" text-anchor="end">tRNA−SeC−TCA−1−1</text>
<line x1="77.30" y1="371.85" x2="80.00" y2="371.85" stroke="#333" stroke-width="0.8"/>
<text x="75.60" y="384.10" font-size="5.6" fill="#3a3a3a" text-anchor="end">tRNA−iMet−CAT−3−1</text>
<line x1="77.30" y1="382.20" x2="80.00" y2="382.20" stroke="#333" stroke-width="0.8"/>
<text x="75.60" y="394.45" font-size="5.6" fill="#3a3a3a" text-anchor="end">tRNA−His−GTG−2−1</text>
<line x1="77.30" y1="392.55" x2="80.00" y2="392.55" stroke="#333" stroke-width="0.8"/>
<text x="75.60" y="404.80" font-size="5.6" fill="#3a3a3a" text-anchor="end">tRNA−His−GTG−1−1</text>
<line x1="77.30" y1="402.90" x2="80.00" y2="402.90" stroke="#333" stroke-width="0.8"/>
<text x="75.60" y="415.15" font-size="5.6" fill="#3a3a3a" text-anchor="end">tRNA−Gly−GCC−5−1</text>
<line x1="77.30" y1="413.25" x2="80.00" y2="413.25" stroke="#333" stroke-width="0.8"/>
<text x="75.60" y="425.50" font-size="5.6" fill="#3a3a3a" text-anchor="end">tRNA−Gly−GCC−3−1</text>
<line x1="77.30" y1="423.60" x2="80.00" y2="423.60" stroke="#333" stroke-width="0.8"/>
<text x="75.60" y="435.85" font-size="5.6" fill="#3a3a3a" text-anchor="end">tRNA−Gly−GCC−2−1</text>
<line x1="77.30" y1="433.95" x2="80.00" y2="433.95" stroke="#333" stroke-width="0.8"/>
<text x="75.60" y="446.20" font-size="5.6" fill="#3a3a3a" text-anchor="end">tRNA−Gly−GCC−1−1</text>
<line x1="77.30" y1="444.30" x2="80.00" y2="444.30" stroke="#333" stroke-width="0.8"/>
<text x="75.60" y="456.55" font-size="5.6" fill="#3a3a3a" text-anchor="end">tRNA−Gly−CCC−1−1</text>
<line x1="77.30" y1="454.65" x2="80.00" y2="454.65" stroke="#333" stroke-width="0.8"/>
<text x="75.60" y="466.90" font-size="5.6" fill="#3a3a3a" text-anchor="end">tRNA−Glu−TTC−8−1</text>
<line x1="77.30" y1="465.00" x2="80.00" y2="465.00" stroke="#333" stroke-width="0.8"/>
<text x="75.60" y="477.25" font-size="5.6" fill="#3a3a3a" text-anchor="end">tRNA−Glu−TTC−4−1</text>
<line x1="77.30" y1="475.35" x2="80.00" y2="475.35" stroke="#333" stroke-width="0.8"/>
<text x="75.60" y="487.60" font-size="5.6" fill="#3a3a3a" text-anchor="end">tRNA−Glu−TTC−3−1</text>
<line x1="77.30" y1="485.70" x2="80.00" y2="485.70" stroke="#333" stroke-width="0.8"/>
<text x="75.60" y="497.95" font-size="5.6" fill="#3a3a3a" text-anchor="end">tRNA−Glu−CTC−3−1</text>
<line x1="77.30" y1="496.05" x2="80.00" y2="496.05" stroke="#333" stroke-width="0.8"/>
<text x="75.60" y="508.30" font-size="5.6" fill="#3a3a3a" text-anchor="end">tRNA−Glu−CTC−2−1</text>
<line x1="77.30" y1="506.40" x2="80.00" y2="506.40" stroke="#333" stroke-width="0.8"/>
<text x="75.60" y="518.65" font-size="5.6" fill="#3a3a3a" text-anchor="end">tRNA−Glu−CTC−1−1</text>
<line x1="77.30" y1="516.75" x2="80.00" y2="516.75" stroke="#333" stroke-width="0.8"/>
<text x="75.60" y="529.00" font-size="5.6" fill="#3a3a3a" text-anchor="end">tRNA−Gln−CTG−5−1</text>
<line x1="77.30" y1="527.10" x2="80.00" y2="527.10" stroke="#333" stroke-width="0.8"/>
<text x="75.60" y="539.35" font-size="5.6" fill="#3a3a3a" text-anchor="end">tRNA−Gln−CTG−3−1</text>
<line x1="77.30" y1="537.45" x2="80.00" y2="537.45" stroke="#333" stroke-width="0.8"/>
<text x="75.60" y="549.70" font-size="5.6" fill="#3a3a3a" text-anchor="end">tRNA−Gln−CTG−2−1</text>
<line x1="77.30" y1="547.80" x2="80.00" y2="547.80" stroke="#333" stroke-width="0.8"/>
<text x="75.60" y="560.05" font-size="5.6" fill="#3a3a3a" text-anchor="end">tRNA−Gln−CTG−1−1</text>
<line x1="77.30" y1="558.15" x2="80.00" y2="558.15" stroke="#333" stroke-width="0.8"/>
<text x="75.60" y="570.40" font-size="5.6" fill="#3a3a3a" text-anchor="end">nmt−tRNA−Leu−TAA−1−1</text>
<line x1="77.30" y1="568.50" x2="80.00" y2="568.50" stroke="#333" stroke-width="0.8"/>
<circle cx="189.50" cy="340.80" r="1.90" fill="#1f4468"/>
<circle cx="126.40" cy="351.15" r="2.50" fill="#14304f"/>
<circle cx="127.10" cy="361.50" r="2.30" fill="#152f4c"/>
<circle cx="99.40" cy="371.85" r="2.30" fill="#27577f"/>
<circle cx="89.20" cy="382.20" r="0.60" fill="#1b3a5b"/>
<circle cx="207.10" cy="392.55" r="1.80" fill="#1e4265"/>
<circle cx="205.10" cy="402.90" r="3.20" fill="#55aef5"/>
<circle cx="178.00" cy="413.25" r="3.40" fill="#152f4c"/>
<circle cx="179.50" cy="423.60" r="3.30" fill="#18395a"/>
<circle cx="180.30" cy="433.95" r="3.30" fill="#1a3c5f"/>
<circle cx="185.60" cy="444.30" r="3.70" fill="#173554"/>
<circle cx="182.20" cy="454.65" r="3.40" fill="#16324f"/>
<circle cx="197.20" cy="465.00" r="3.20" fill="#3370a2"/>
<circle cx="193.30" cy="475.35" r="3.20" fill="#316b9b"/>
<circle cx="199.10" cy="485.70" r="3.20" fill="#3775a9"/>
<circle cx="113.50" cy="496.05" r="1.50" fill="#14304f"/>
<circle cx="189.00" cy="506.40" r="4.00" fill="#29567f"/>
<circle cx="189.00" cy="516.75" r="4.00" fill="#29567f"/>
<circle cx="114.60" cy="527.10" r="3.00" fill="#2d6393"/>
<circle cx="115.40" cy="537.45" r="2.50" fill="#1f4569"/>
<circle cx="113.90" cy="547.80" r="2.50" fill="#1c4062"/>
<circle cx="113.50" cy="558.15" r="3.00" fill="#336fa3"/>
<circle cx="126.40" cy="568.50" r="2.40" fill="#152f4c"/>
<line x1="88.29" y1="574.80" x2="88.29" y2="577.00" stroke="#333" stroke-width="0.6"/>
<text x="88.29" y="582.80" font-size="5.6" fill="#4d4d4d" text-anchor="middle">−3</text>
<line x1="109.96" y1="574.80" x2="109.96" y2="577.00" stroke="#333" stroke-width="0.6"/>
<text x="109.96" y="582.80" font-size="5.6" fill="#4d4d4d" text-anchor="middle">−2</text>
<line x1="131.63" y1="574.80" x2="131.63" y2="577.00" stroke="#333" stroke-width="0.6"/>
<text x="131.63" y="582.80" font-size="5.6" fill="#4d4d4d" text-anchor="middle">−1</text>
<line x1="153.30" y1="574.80" x2="153.30" y2="577.00" stroke="#333" stroke-width="0.6"/>
<text x="153.30" y="582.80" font-size="5.6" fill="#4d4d4d" text-anchor="middle">0</text>
<line x1="174.97" y1="574.80" x2="174.97" y2="577.00" stroke="#333" stroke-width="0.6"/>
<text x="174.97" y="582.80" font-size="5.6" fill="#4d4d4d" text-anchor="middle">1</text>
<line x1="196.64" y1="574.80" x2="196.64" y2="577.00" stroke="#333" stroke-width="0.6"/>
<text x="196.64" y="582.80" font-size="5.6" fill="#4d4d4d" text-anchor="middle">2</text>
<text x="222.00" y="575.90" font-size="5.63" font-weight="bold">log2FoldChange</text>
<text x="228.20" y="340.80" font-size="4.7" font-weight="bold">Threshold:</text>
<text x="228.20" y="345.70" font-size="4.7" font-weight="bold">|log2FC|>1</text>
<text x="229.20" y="350.30" font-size="4.7" font-weight="bold">padj&lt;0.05</text>
<text x="228.90" y="397.60" font-size="4.8" font-weight="bold">−Log10(padj)</text>
<defs><linearGradient id="fleg" x1="0" y1="0" x2="0" y2="1"><stop offset="0" stop-color="#56b1f7"/><stop offset="1" stop-color="#132b43"/></linearGradient></defs>
<rect x="228.90" y="402.80" width="9.80" height="48.00" fill="url(#fleg)"/>
<text x="243.00" y="409.00" font-size="4.8">10.0</text>
<line x1="228.90" y1="407.30" x2="230.90" y2="407.30" stroke="#fff" stroke-width="0.4"/>
<line x1="236.70" y1="407.30" x2="238.70" y2="407.30" stroke="#fff" stroke-width="0.4"/>
<text x="243.00" y="421.60" font-size="4.8">7.5</text>
<line x1="228.90" y1="419.90" x2="230.90" y2="419.90" stroke="#fff" stroke-width="0.4"/>
<line x1="236.70" y1="419.90" x2="238.70" y2="419.90" stroke="#fff" stroke-width="0.4"/>
<text x="243.00" y="434.30" font-size="4.8">5.0</text>
<line x1="228.90" y1="432.60" x2="230.90" y2="432.60" stroke="#fff" stroke-width="0.4"/>
<line x1="236.70" y1="432.60" x2="238.70" y2="432.60" stroke="#fff" stroke-width="0.4"/>
<text x="243.00" y="446.80" font-size="4.8">2.5</text>
<line x1="228.90" y1="445.10" x2="230.90" y2="445.10" stroke="#fff" stroke-width="0.4"/>
<line x1="236.70" y1="445.10" x2="238.70" y2="445.10" stroke="#fff" stroke-width="0.4"/>
<text x="228.90" y="472.50" font-size="4.85" font-weight="bold">Log2(baseMean)</text>
<rect x="228.90" y="477.20" width="9.80" height="38.80" fill="#ebebeb"/>
<circle cx="233.75" cy="482.20" r="2.30" fill="#000"/>
<text x="243.00" y="483.90" font-size="4.8">7.5</text>
<circle cx="233.75" cy="491.80" r="3.05" fill="#000"/>
<text x="243.00" y="493.50" font-size="4.8">10.0</text>
<circle cx="233.75" cy="501.60" r="3.70" fill="#000"/>
<text x="243.00" y="503.30" font-size="4.8">12.5</text>
<circle cx="233.75" cy="511.20" r="4.30" fill="#000"/>
<text x="243.00" y="512.90" font-size="4.8">15.0</text>
<text x="289.00" y="329.40" font-size="17" font-weight="bold">g</text>
<path d="M339.57,345.66 L339.57,378.07 C339.57,381.22 341.32,382.45 344.47,382.45 L360.94,382.45 " fill="none" stroke="#333" stroke-width="0.9"/>
<path d="M360.94,382.45 A9.90,9.90 0 1 1 360.94,391.56 L350.08,391.56 C346.57,391.56 344.47,392.96 345.17,395.24 C345.87,397.34 349.73,397.69 349.38,400.49 C349.03,402.95 344.47,403.65 341.67,401.90 C339.92,400.84 339.57,401.19 339.57,403.47 L339.57,418.71 " fill="none" stroke="#333" stroke-width="0.9"/>
<path d="M339.57,418.71 C339.57,420.47 344.47,422.22 344.47,428.00 C344.47,432.73 341.32,435.53 337.81,435.53 L332.56,435.53 C329.05,435.53 325.90,432.73 325.90,428.00 C325.90,422.22 330.81,420.47 330.81,418.71 L330.81,403.47 C330.81,399.97 328.70,397.69 325.20,397.69 L315.04,397.69 " fill="none" stroke="#333" stroke-width="0.9"/>
<path d="M315.04,397.69 A9.90,9.90 0 1 1 315.04,389.28 L325.20,389.28 C328.70,389.28 330.81,387.18 330.81,383.68 L330.81,361.43 " fill="none" stroke="#333" stroke-width="0.9"/>
<line x1="330.81" y1="365.28" x2="339.57" y2="365.28" stroke="#555" stroke-width="0.55"/>
<line x1="330.81" y1="367.56" x2="339.57" y2="367.56" stroke="#555" stroke-width="0.55"/>
<line x1="330.81" y1="369.84" x2="339.57" y2="369.84" stroke="#555" stroke-width="0.55"/>
<line x1="330.81" y1="372.11" x2="339.57" y2="372.11" stroke="#555" stroke-width="0.55"/>
<line x1="330.81" y1="374.39" x2="339.57" y2="374.39" stroke="#555" stroke-width="0.55"/>
<line x1="330.81" y1="376.67" x2="339.57" y2="376.67" stroke="#555" stroke-width="0.55"/>
<line x1="330.81" y1="406.45" x2="339.57" y2="406.45" stroke="#555" stroke-width="0.55"/>
<line x1="330.81" y1="408.73" x2="339.57" y2="408.73" stroke="#555" stroke-width="0.55"/>
<line x1="330.81" y1="411.01" x2="339.57" y2="411.01" stroke="#555" stroke-width="0.55"/>
<line x1="330.81" y1="413.28" x2="339.57" y2="413.28" stroke="#555" stroke-width="0.55"/>
<line x1="330.81" y1="415.56" x2="339.57" y2="415.56" stroke="#555" stroke-width="0.55"/>
<line x1="330.81" y1="417.84" x2="339.57" y2="417.84" stroke="#555" stroke-width="0.55"/>
<line x1="315.74" y1="389.28" x2="315.74" y2="397.69" stroke="#555" stroke-width="0.55"/>
<line x1="317.84" y1="389.28" x2="317.84" y2="397.69" stroke="#555" stroke-width="0.55"/>
<line x1="319.94" y1="389.28" x2="319.94" y2="397.69" stroke="#555" stroke-width="0.55"/>
<line x1="322.05" y1="389.28" x2="322.05" y2="397.69" stroke="#555" stroke-width="0.55"/>
<line x1="324.15" y1="389.28" x2="324.15" y2="397.69" stroke="#555" stroke-width="0.55"/>
<line x1="349.20" y1="382.45" x2="349.20" y2="391.56" stroke="#555" stroke-width="0.55"/>
<line x1="351.48" y1="382.45" x2="351.48" y2="391.56" stroke="#555" stroke-width="0.55"/>
<line x1="353.76" y1="382.45" x2="353.76" y2="391.56" stroke="#555" stroke-width="0.55"/>
<line x1="356.03" y1="382.45" x2="356.03" y2="391.56" stroke="#555" stroke-width="0.55"/>
<line x1="358.31" y1="382.45" x2="358.31" y2="391.56" stroke="#555" stroke-width="0.55"/>
<line x1="360.59" y1="382.45" x2="360.59" y2="391.56" stroke="#555" stroke-width="0.55"/>
<text x="334.70" y="447.80" font-size="10.6" fill="#111" text-anchor="middle">tRNA library</text>
<line x1="415.10" y1="326.90" x2="427.70" y2="326.90" stroke="#d9595d" stroke-width="0.9"/>
<line x1="415.10" y1="330.40" x2="427.70" y2="330.40" stroke="#d9595d" stroke-width="0.9"/>
<line x1="415.10" y1="334.00" x2="427.70" y2="334.00" stroke="#d9595d" stroke-width="0.9"/>
<line x1="415.10" y1="337.50" x2="427.70" y2="337.50" stroke="#d9595d" stroke-width="0.9"/>
<line x1="415.10" y1="341.00" x2="427.70" y2="341.00" stroke="#d9595d" stroke-width="0.9"/>
<path d="M415.10,324.1 L415.10,344.6 C415.10,349.5 407.60,351.5 407.60,359 C407.60,364.5 409.90,368.2 414.40,368.2 L428.40,368.2 C432.90,368.2 435.20,364.5 435.20,359 C435.20,351.5 427.70,349.5 427.70,344.6 L427.70,324.1" fill="none" stroke="#c8343a" stroke-width="1.5" stroke-linecap="butt"/>
<line x1="490.60" y1="326.90" x2="503.20" y2="326.90" stroke="#f0a3a4" stroke-width="0.9"/>
<line x1="490.60" y1="330.40" x2="503.20" y2="330.40" stroke="#f0a3a4" stroke-width="0.9"/>
<line x1="490.60" y1="334.00" x2="503.20" y2="334.00" stroke="#f0a3a4" stroke-width="0.9"/>
<line x1="490.60" y1="337.50" x2="503.20" y2="337.50" stroke="#f0a3a4" stroke-width="0.9"/>
<line x1="490.60" y1="341.00" x2="503.20" y2="341.00" stroke="#f0a3a4" stroke-width="0.9"/>
<path d="M490.60,324.1 L490.60,344.6 C490.60,349.5 483.10,351.5 483.10,359 C483.10,364.5 485.40,368.2 489.90,368.2 L503.90,368.2 C508.40,368.2 510.70,364.5 510.70,359 C510.70,351.5 503.20,349.5 503.20,344.6 L503.20,324.1" fill="none" stroke="#ec8f90" stroke-width="1.5" stroke-linecap="butt"/>
<defs><linearGradient id="fl3" gradientUnits="userSpaceOnUse" x1="0" y1="324" x2="0" y2="368"><stop offset="0.35" stop-color="#17558f"/><stop offset="0.65" stop-color="#2d90e0"/></linearGradient></defs>
<line x1="565.70" y1="326.90" x2="578.30" y2="326.90" stroke="#2f8fd6" stroke-width="0.9"/>
<line x1="565.70" y1="330.40" x2="578.30" y2="330.40" stroke="#2f8fd6" stroke-width="0.9"/>
<line x1="565.70" y1="334.00" x2="578.30" y2="334.00" stroke="#2f8fd6" stroke-width="0.9"/>
<line x1="565.70" y1="337.50" x2="578.30" y2="337.50" stroke="#2f8fd6" stroke-width="0.9"/>
<line x1="565.70" y1="341.00" x2="578.30" y2="341.00" stroke="#2f8fd6" stroke-width="0.9"/>
<path d="M565.70,324.1 L565.70,344.6 C565.70,349.5 558.20,351.5 558.20,359 C558.20,364.5 560.50,368.2 565.00,368.2 L579.00,368.2 C583.50,368.2 585.80,364.5 585.80,359 C585.80,351.5 578.30,349.5 578.30,344.6 L578.30,324.1" fill="none" stroke="url(#fl3)" stroke-width="1.5" stroke-linecap="butt"/>
<defs><linearGradient id="fl4" gradientUnits="userSpaceOnUse" x1="0" y1="324" x2="0" y2="368"><stop offset="0.35" stop-color="#1a9ab5"/><stop offset="0.65" stop-color="#1db4d6"/></linearGradient></defs>
<line x1="641.70" y1="326.90" x2="654.30" y2="326.90" stroke="#4cc3da" stroke-width="0.9"/>
<line x1="641.70" y1="330.40" x2="654.30" y2="330.40" stroke="#4cc3da" stroke-width="0.9"/>
<line x1="641.70" y1="334.00" x2="654.30" y2="334.00" stroke="#4cc3da" stroke-width="0.9"/>
<line x1="641.70" y1="337.50" x2="654.30" y2="337.50" stroke="#4cc3da" stroke-width="0.9"/>
<line x1="641.70" y1="341.00" x2="654.30" y2="341.00" stroke="#4cc3da" stroke-width="0.9"/>
<path d="M641.70,324.1 L641.70,344.6 C641.70,349.5 634.20,351.5 634.20,359 C634.20,364.5 636.50,368.2 641.00,368.2 L655.00,368.2 C659.50,368.2 661.80,364.5 661.80,359 C661.80,351.5 654.30,349.5 654.30,344.6 L654.30,324.1" fill="none" stroke="url(#fl4)" stroke-width="1.5" stroke-linecap="butt"/>
<text x="421.80" y="381.20" font-size="8.8" font-weight="bold" fill="#c9393d" text-anchor="middle">Optimal</text>
<text x="497.00" y="381.20" font-size="8.8" font-weight="bold" fill="#e48b8c" text-anchor="middle">Less optimal</text>
<text x="572.00" y="381.20" font-size="8.8" font-weight="bold" fill="#2b80d2" text-anchor="middle">Non-optimal</text>
<text x="647.60" y="381.20" font-size="8.8" font-weight="bold" fill="#1fb0d2" text-anchor="middle">Less non-optimal</text>
<rect x="386.40" y="386.50" width="71.30" height="100.30" fill="#f0adae" rx="2.5"/>
<rect x="461.50" y="386.50" width="71.50" height="36.20" fill="#f6cecf" rx="2.5"/>
<rect x="537.30" y="386.80" width="70.30" height="100.00" fill="#8fcbd0" rx="2.5"/>
<rect x="612.70" y="386.80" width="70.90" height="57.30" fill="#c4e3e7" rx="2.5"/>
<text x="421.80" y="397.30" font-size="8.4" fill="#111" text-anchor="middle">F-GAA-3-1</text>
<text x="421.80" y="407.60" font-size="8.4" fill="#7b6868" text-anchor="middle">F-GAA-11-1</text>
<text x="421.80" y="417.90" font-size="8.4" fill="#111" text-anchor="middle">L-CAG-1-1</text>
<text x="421.80" y="428.20" font-size="8.4" fill="#111" text-anchor="middle">V-CAC-9-1</text>
<text x="421.80" y="438.50" font-size="8.4" fill="#111" text-anchor="middle">I-GAT-1-1</text>
<text x="421.80" y="448.80" font-size="8.4" font-weight="bold" text-anchor="middle">A-AGC/GGC-2-1</text>
<text x="421.80" y="459.10" font-size="8.4" fill="#111" text-anchor="middle">G-GCC-1-1/-5-1</text>
<text x="421.80" y="469.40" font-size="8.4" fill="#111" text-anchor="middle">Y-GTA-1-1</text>
<text x="421.80" y="479.70" font-size="8.4" font-weight="bold" text-anchor="middle">T-AGT/GGT-7-1</text>
<text x="496.80" y="396.60" font-size="8.4" fill="#5a5050" text-anchor="middle" text-decoration="underline">iM-CAT-3-1</text>
<text x="496.80" y="406.80" font-size="8.4" fill="#111" text-anchor="middle">E-CTC-1-1</text>
<text x="496.80" y="417.00" font-size="8.4" fill="#5a5050" text-anchor="middle" text-decoration="underline">E-CTC-3-1</text>
<text x="572.40" y="398.60" font-size="8.4" font-weight="bold" text-anchor="middle">P-GGG/AGG-1-1</text>
<text x="572.40" y="408.85" font-size="8.4" fill="#111" text-anchor="middle">D-GTC-2-1</text>
<text x="572.40" y="419.10" font-size="8.4" fill="#111" text-anchor="middle">N-ATT-1-1</text>
<text x="572.40" y="429.35" font-size="8.4" fill="#111" text-anchor="middle">E-TTC-3-1</text>
<text x="572.40" y="439.60" font-size="8.4" fill="#111" text-anchor="middle">R-TCT-1-1</text>
<text x="572.40" y="449.85" font-size="8.4" fill="#111" text-anchor="middle">K-TTT-1-1/-4-1</text>
<text x="572.40" y="460.10" font-size="8.4" fill="#6d7a7c" text-anchor="middle">K-TTT-7/-9/-13-1</text>
<text x="572.40" y="470.35" font-size="8.4" fill="#111" text-anchor="middle">T-TGT-1-1</text>
<text x="572.40" y="480.60" font-size="8.4" fill="#111" text-anchor="middle">C-ACA-1-1</text>
<text x="647.70" y="397.30" font-size="8.4" fill="#111" text-anchor="middle">V-TAC-2-1</text>
<text x="647.70" y="407.55" font-size="8.4" fill="#111" text-anchor="middle">H-GTG-1-1/-2-1</text>
<text x="647.70" y="417.80" font-size="8.4" fill="#646464" text-anchor="middle">Q-CTG-6-1</text>
<text x="647.70" y="428.05" font-size="8.4" fill="#646464" text-anchor="middle">Y-ATA-1-1</text>
<text x="647.70" y="438.30" font-size="8.4" fill="#5a5a5a" text-anchor="middle" text-decoration="underline">Sec-TCA-1-1</text>
<text x="289.30" y="500.20" font-size="17" font-weight="bold">h</text>
<line x1="304.00" y1="514.20" x2="327.00" y2="514.20" stroke="#111" stroke-width="0.9"/>
<line x1="401.00" y1="514.20" x2="406.00" y2="514.20" stroke="#111" stroke-width="0.9"/>
<line x1="524.00" y1="514.20" x2="546.30" y2="514.20" stroke="#111" stroke-width="0.9"/>
<line x1="304.00" y1="559.00" x2="327.00" y2="559.00" stroke="#111" stroke-width="0.9"/>
<line x1="401.00" y1="559.00" x2="406.00" y2="559.00" stroke="#111" stroke-width="0.9"/>
<line x1="482.00" y1="559.00" x2="504.50" y2="559.00" stroke="#111" stroke-width="0.9"/>
<polygon points="326.70,506.00 392.40,506.00 392.40,497.60 401.40,514.20 392.40,530.60 392.40,522.40 326.70,522.40" fill="#2f63b6"/>
<polygon points="326.70,550.70 392.40,550.70 392.40,542.40 401.40,559.00 392.40,575.40 392.40,567.30 326.70,567.30" fill="#2f63b6"/>
<text x="332.00" y="517.20" font-size="8.9" fill="#fff">CMV promoter</text>
<text x="332.00" y="562.00" font-size="8.9" fill="#fff">7sk promoter</text>
<rect x="405.50" y="506.00" width="77.10" height="16.50" fill="#3f9fa6"/>
<rect x="482.60" y="506.00" width="7.80" height="16.50" fill="#e9965b"/>
<rect x="490.40" y="506.00" width="33.60" height="16.50" fill="#5e9456"/>
<text x="412.80" y="517.20" font-size="8.9" fill="#fff">Spike B.1.1.529</text>
<text x="494.60" y="517.20" font-size="8.9" fill="#fff">EGFP</text>
<rect x="405.50" y="550.70" width="76.50" height="16.60" fill="#c893cd"/>
<text x="416.60" y="562.00" font-size="8.9" fill="#fff">Natural tRNA</text>
<path d="M551,513.2 C557,513.2 559.8,514.5 559.8,519.5 L559.8,530 C559.8,534.5 561.5,536.8 565,536.8 C561.5,536.8 559.8,539 559.8,543.5 L559.8,554 C559.8,559 557,560.4 551,560.4" fill="none" stroke="#111" stroke-width="0.9"/>
<line x1="564.50" y1="536.80" x2="593.80" y2="536.80" stroke="#111" stroke-width="0.8"/>
<polygon points="597.30,536.80 592.80,538.50 592.80,535.10" fill="#111"/>
<text x="565.70" y="532.10" font-size="8.7" fill="#111">Ratio?</text>
<text x="611.90" y="576.00" font-size="8.85" fill="#111">HEK293T cells</text>
<path d="M613.39,516.42 Q620.31,517.09 632.45,510.51 Q624.52,521.57 625.22,528.25 Q620.25,524.95 609.45,532.85 Q616.71,521.51 613.39,516.42 Z" fill="#d0d0d0"/>
<circle cx="620.62" cy="520.76" r="2.80" fill="#b6b6b6"/>
<path d="M633.10,509.20 Q641.03,522.28 656.10,524.96 Q648.17,511.88 633.10,509.20 Z" fill="#d0d0d0"/>
<ellipse cx="645.58" cy="516.42" rx="2.40" ry="1.70" fill="#b6b6b6" transform="rotate(34.4 645.58 516.42)"/>
<circle cx="636.78" cy="526.01" r="6.80" fill="#d0d0d0"/>
<circle cx="635.99" cy="526.67" r="2.70" fill="#b6b6b6"/>
<path d="M655.44,513.14 Q666.21,518.40 671.86,518.39 Q669.87,522.72 675.15,531.53 Q665.47,526.25 659.38,526.28 Q662.02,521.98 655.44,513.14 Z" fill="#d0d0d0"/>
<circle cx="666.61" cy="522.34" r="2.80" fill="#b6b6b6"/>
<path d="M650.18,528.25 Q656.60,530.06 670.55,532.19 Q658.00,537.89 652.81,543.36 Q651.38,537.71 638.36,537.45 Q650.38,532.69 650.18,528.25 Z" fill="#d0d0d0"/>
<circle cx="654.78" cy="533.90" r="3.00" fill="#b6b6b6"/>
<path d="M606.17,537.45 Q620.19,541.51 633.76,536.13 Q619.74,532.06 606.17,537.45 Z" fill="#d0d0d0"/>
<ellipse cx="619.96" cy="535.74" rx="2.40" ry="1.70" fill="#b6b6b6" transform="rotate(-2.7 619.96 535.74)"/>
<path d="M654.78,546.64 Q668.74,546.19 678.43,536.13 Q664.47,536.58 654.78,546.64 Z" fill="#d0d0d0"/>
<ellipse cx="665.95" cy="541.39" rx="2.40" ry="1.70" fill="#b6b6b6" transform="rotate(-24.0 665.95 541.39)"/>
<circle cx="609.19" cy="547.56" r="6.60" fill="#d0d0d0"/>
<circle cx="608.40" cy="547.96" r="2.70" fill="#b6b6b6"/>
<path d="M619.96,544.02 Q626.63,544.67 638.36,541.39 Q630.01,549.56 629.16,555.18 Q625.56,551.90 615.37,557.15 Q622.86,548.51 619.96,544.02 Z" fill="#d0d0d0"/>
<circle cx="626.53" cy="547.96" r="2.70" fill="#b6b6b6"/>
<path d="M644.27,544.02 L649.92,553.61 L637.31,554.13 Z" fill="#d0d0d0" stroke="#d0d0d0" stroke-width="2.4" stroke-linejoin="round"/>
<circle cx="643.61" cy="551.24" r="2.30" fill="#b6b6b6"/>
<path d="M653.47,551.90 Q655.23,555.36 667.26,553.21 Q656.44,560.01 655.44,564.38 Q651.00,561.97 639.67,561.10 Q649.89,555.82 653.47,551.90 Z" fill="#d0d0d0"/>
<circle cx="652.81" cy="558.47" r="2.80" fill="#b6b6b6"/>
<path d="M613.39,559.12 Q626.01,566.14 640.33,564.38 Q627.72,557.37 613.39,559.12 Z" fill="#d0d0d0"/>
<ellipse cx="627.85" cy="561.49" rx="2.40" ry="1.70" fill="#b6b6b6" transform="rotate(11.0 627.85 561.49)"/>
<text x="2.20" y="598.00" font-size="16.5" font-weight="bold">i</text>
<text x="13.60" y="616.60" font-size="9.2" fill="#111">3.1-Vector</text>
<text x="96.10" y="616.60" font-size="9.2" fill="#111" text-anchor="middle">1:1</text>
<text x="157.40" y="616.60" font-size="9.2" fill="#111" text-anchor="middle">1:2</text>
<text x="218.70" y="616.60" font-size="9.2" fill="#111" text-anchor="middle">1:3</text>
<text x="280.00" y="616.60" font-size="9.2" fill="#111" text-anchor="middle">1:4</text>
<text x="187.60" y="604.80" font-size="9.2" fill="#111" text-anchor="middle">F-GAA-3-1</text>
<text x="187.60" y="746.30" font-size="9.2" fill="#111" text-anchor="middle">L-CAG-1-1</text>
<line x1="67.00" y1="607.40" x2="310.20" y2="607.40" stroke="#222" stroke-width="0.8"/>
<line x1="67.00" y1="736.80" x2="310.20" y2="736.80" stroke="#222" stroke-width="0.8"/>
<defs>
<filter id="mic0" x="0" y="0" width="1" height="1" color-interpolation-filters="sRGB"><feTurbulence type="fractalNoise" baseFrequency="0.42" numOctaves="3" seed="3"/><feColorMatrix type="matrix" values="0 1 0 0 0  0 1 0 0 0  0 1 0 0 0  0 0 0 0 1"/><feComponentTransfer><feFuncR type="table" tableValues="0.000 0.000 0.000 0.000 0.000 0.000 0.000 0.000 0.000 0.000 0.000 0.000 0.010 0.020 0.040 0.080 0.140 0.200 0.250 0.250 0.250"/><feFuncG type="table" tableValues="0.060 0.060 0.060 0.060 0.060 0.060 0.060 0.060 0.060 0.065 0.080 0.110 0.160 0.240 0.360 0.520 0.700 0.850 0.950 0.950 0.950"/><feFuncB type="table" tableValues="0.000 0.000 0.000 0.000 0.000 0.000 0.000 0.000 0.000 0.000 0.000 0.000 0.010 0.020 0.040 0.080 0.140 0.200 0.250 0.250 0.250"/></feComponentTransfer></filter>
<filter id="mic1" x="0" y="0" width="1" height="1" color-interpolation-filters="sRGB"><feTurbulence type="fractalNoise" baseFrequency="0.42" numOctaves="3" seed="10"/><feColorMatrix type="matrix" values="0 1 0 0 0  0 1 0 0 0  0 1 0 0 0  0 0 0 0 1"/><feComponentTransfer><feFuncR type="table" tableValues="0.000 0.000 0.000 0.000 0.000 0.000 0.000 0.000 0.000 0.000 0.000 0.000 0.010 0.020 0.040 0.080 0.140 0.200 0.250 0.250 0.250"/><feFuncG type="table" tableValues="0.060 0.060 0.060 0.060 0.060 0.060 0.060 0.060 0.060 0.068 0.085 0.120 0.180 0.270 0.400 0.570 0.750 0.880 0.950 0.950 0.950"/><feFuncB type="table" tableValues="0.000 0.000 0.000 0.000 0.000 0.000 0.000 0.000 0.000 0.000 0.000 0.000 0.010 0.020 0.040 0.080 0.140 0.200 0.250 0.250 0.250"/></feComponentTransfer></filter>
<filter id="mic2" x="0" y="0" width="1" height="1" color-interpolation-filters="sRGB"><feTurbulence type="fractalNoise" baseFrequency="0.42" numOctaves="3" seed="17"/><feColorMatrix type="matrix" values="0 1 0 0 0  0 1 0 0 0  0 1 0 0 0  0 0 0 0 1"/><feComponentTransfer><feFuncR type="table" tableValues="0.000 0.000 0.000 0.000 0.000 0.000 0.000 0.000 0.000 0.000 0.000 0.000 0.010 0.020 0.040 0.080 0.140 0.200 0.250 0.250 0.250"/><feFuncG type="table" tableValues="0.060 0.060 0.060 0.060 0.060 0.060 0.060 0.060 0.060 0.070 0.090 0.130 0.200 0.300 0.450 0.620 0.800 0.900 0.950 0.950 0.950"/><feFuncB type="table" tableValues="0.000 0.000 0.000 0.000 0.000 0.000 0.000 0.000 0.000 0.000 0.000 0.000 0.010 0.020 0.040 0.080 0.140 0.200 0.250 0.250 0.250"/></feComponentTransfer></filter>
<filter id="mic3" x="0" y="0" width="1" height="1" color-interpolation-filters="sRGB"><feTurbulence type="fractalNoise" baseFrequency="0.42" numOctaves="3" seed="24"/><feColorMatrix type="matrix" values="0 1 0 0 0  0 1 0 0 0  0 1 0 0 0  0 0 0 0 1"/><feComponentTransfer><feFuncR type="table" tableValues="0.000 0.000 0.000 0.000 0.000 0.000 0.000 0.000 0.000 0.000 0.000 0.000 0.010 0.020 0.040 0.080 0.140 0.200 0.250 0.250 0.250"/><feFuncG type="table" tableValues="0.060 0.060 0.060 0.060 0.060 0.060 0.060 0.060 0.060 0.070 0.090 0.130 0.200 0.300 0.450 0.620 0.800 0.900 0.950 0.950 0.950"/><feFuncB type="table" tableValues="0.000 0.000 0.000 0.000 0.000 0.000 0.000 0.000 0.000 0.000 0.000 0.000 0.010 0.020 0.040 0.080 0.140 0.200 0.250 0.250 0.250"/></feComponentTransfer></filter>
<filter id="mic4" x="0" y="0" width="1" height="1" color-interpolation-filters="sRGB"><feTurbulence type="fractalNoise" baseFrequency="0.42" numOctaves="3" seed="31"/><feColorMatrix type="matrix" values="0 1 0 0 0  0 1 0 0 0  0 1 0 0 0  0 0 0 0 1"/><feComponentTransfer><feFuncR type="table" tableValues="0.000 0.000 0.000 0.000 0.000 0.000 0.000 0.000 0.000 0.000 0.000 0.000 0.010 0.020 0.040 0.080 0.140 0.200 0.250 0.250 0.250"/><feFuncG type="table" tableValues="0.060 0.060 0.060 0.060 0.060 0.060 0.060 0.060 0.065 0.080 0.110 0.160 0.250 0.380 0.540 0.720 0.860 0.930 0.950 0.950 0.950"/><feFuncB type="table" tableValues="0.000 0.000 0.000 0.000 0.000 0.000 0.000 0.000 0.000 0.000 0.000 0.000 0.010 0.020 0.040 0.080 0.140 0.200 0.250 0.250 0.250"/></feComponentTransfer></filter>
<filter id="mic5" x="0" y="0" width="1" height="1" color-interpolation-filters="sRGB"><feTurbulence type="fractalNoise" baseFrequency="0.42" numOctaves="3" seed="38"/><feColorMatrix type="matrix" values="0 1 0 0 0  0 1 0 0 0  0 1 0 0 0  0 0 0 0 1"/><feComponentTransfer><feFuncR type="table" tableValues="0.000 0.000 0.000 0.000 0.000 0.000 0.000 0.000 0.000 0.000 0.000 0.000 0.010 0.020 0.040 0.080 0.140 0.200 0.250 0.250 0.250"/><feFuncG type="table" tableValues="0.060 0.060 0.060 0.060 0.060 0.060 0.060 0.060 0.060 0.065 0.080 0.110 0.160 0.240 0.360 0.520 0.700 0.850 0.950 0.950 0.950"/><feFuncB type="table" tableValues="0.000 0.000 0.000 0.000 0.000 0.000 0.000 0.000 0.000 0.000 0.000 0.000 0.010 0.020 0.040 0.080 0.140 0.200 0.250 0.250 0.250"/></feComponentTransfer></filter>
<filter id="mic6" x="0" y="0" width="1" height="1" color-interpolation-filters="sRGB"><feTurbulence type="fractalNoise" baseFrequency="0.42" numOctaves="3" seed="45"/><feColorMatrix type="matrix" values="0 1 0 0 0  0 1 0 0 0  0 1 0 0 0  0 0 0 0 1"/><feComponentTransfer><feFuncR type="table" tableValues="0.000 0.000 0.000 0.000 0.000 0.000 0.000 0.000 0.000 0.000 0.000 0.000 0.010 0.020 0.040 0.080 0.140 0.200 0.250 0.250 0.250"/><feFuncG type="table" tableValues="0.060 0.060 0.060 0.060 0.060 0.060 0.060 0.060 0.060 0.065 0.080 0.110 0.160 0.240 0.360 0.520 0.700 0.850 0.950 0.950 0.950"/><feFuncB type="table" tableValues="0.000 0.000 0.000 0.000 0.000 0.000 0.000 0.000 0.000 0.000 0.000 0.000 0.010 0.020 0.040 0.080 0.140 0.200 0.250 0.250 0.250"/></feComponentTransfer></filter>
<filter id="mic7" x="0" y="0" width="1" height="1" color-interpolation-filters="sRGB"><feTurbulence type="fractalNoise" baseFrequency="0.42" numOctaves="3" seed="52"/><feColorMatrix type="matrix" values="0 1 0 0 0  0 1 0 0 0  0 1 0 0 0  0 0 0 0 1"/><feComponentTransfer><feFuncR type="table" tableValues="0.000 0.000 0.000 0.000 0.000 0.000 0.000 0.000 0.000 0.000 0.000 0.000 0.010 0.020 0.040 0.080 0.140 0.200 0.250 0.250 0.250"/><feFuncG type="table" tableValues="0.060 0.060 0.060 0.060 0.060 0.060 0.060 0.060 0.060 0.068 0.085 0.120 0.180 0.270 0.400 0.570 0.750 0.880 0.950 0.950 0.950"/><feFuncB type="table" tableValues="0.000 0.000 0.000 0.000 0.000 0.000 0.000 0.000 0.000 0.000 0.000 0.000 0.010 0.020 0.040 0.080 0.140 0.200 0.250 0.250 0.250"/></feComponentTransfer></filter>
<filter id="mic8" x="0" y="0" width="1" height="1" color-interpolation-filters="sRGB"><feTurbulence type="fractalNoise" baseFrequency="0.42" numOctaves="3" seed="59"/><feColorMatrix type="matrix" values="0 1 0 0 0  0 1 0 0 0  0 1 0 0 0  0 0 0 0 1"/><feComponentTransfer><feFuncR type="table" tableValues="0.000 0.000 0.000 0.000 0.000 0.000 0.000 0.000 0.000 0.000 0.000 0.000 0.010 0.020 0.040 0.080 0.140 0.200 0.250 0.250 0.250"/><feFuncG type="table" tableValues="0.060 0.060 0.060 0.060 0.060 0.060 0.060 0.060 0.060 0.065 0.080 0.110 0.160 0.240 0.360 0.520 0.700 0.850 0.950 0.950 0.950"/><feFuncB type="table" tableValues="0.000 0.000 0.000 0.000 0.000 0.000 0.000 0.000 0.000 0.000 0.000 0.000 0.010 0.020 0.040 0.080 0.140 0.200 0.250 0.250 0.250"/></feComponentTransfer></filter>
<filter id="mic9" x="0" y="0" width="1" height="1" color-interpolation-filters="sRGB"><feTurbulence type="fractalNoise" baseFrequency="0.42" numOctaves="3" seed="66"/><feColorMatrix type="matrix" values="0 1 0 0 0  0 1 0 0 0  0 1 0 0 0  0 0 0 0 1"/><feComponentTransfer><feFuncR type="table" tableValues="0.000 0.000 0.000 0.000 0.000 0.000 0.000 0.000 0.000 0.000 0.000 0.000 0.010 0.020 0.040 0.080 0.140 0.200 0.250 0.250 0.250"/><feFuncG type="table" tableValues="0.060 0.060 0.060 0.060 0.060 0.060 0.060 0.060 0.060 0.070 0.090 0.130 0.200 0.300 0.450 0.620 0.800 0.900 0.950 0.950 0.950"/><feFuncB type="table" tableValues="0.000 0.000 0.000 0.000 0.000 0.000 0.000 0.000 0.000 0.000 0.000 0.000 0.010 0.020 0.040 0.080 0.140 0.200 0.250 0.250 0.250"/></feComponentTransfer></filter>
</defs>
<rect x="5.40" y="620.60" width="59.20" height="55.00" fill="#031403"/>
<rect x="5.40" y="620.60" width="59.20" height="55.00" fill="#000" filter="url(#mic0)"/>
<rect x="49.90" y="669.00" width="5.90" height="1.90" fill="#fff2f2"/>
<rect x="66.70" y="620.60" width="59.20" height="55.00" fill="#031403"/>
<rect x="66.70" y="620.60" width="59.20" height="55.00" fill="#000" filter="url(#mic1)"/>
<rect x="111.20" y="669.00" width="5.90" height="1.90" fill="#fff2f2"/>
<rect x="128.00" y="620.60" width="59.20" height="55.00" fill="#031403"/>
<rect x="128.00" y="620.60" width="59.20" height="55.00" fill="#000" filter="url(#mic2)"/>
<rect x="172.50" y="669.00" width="5.90" height="1.90" fill="#fff2f2"/>
<rect x="189.30" y="620.60" width="59.20" height="55.00" fill="#031403"/>
<rect x="189.30" y="620.60" width="59.20" height="55.00" fill="#000" filter="url(#mic3)"/>
<rect x="233.80" y="669.00" width="5.90" height="1.90" fill="#fff2f2"/>
<rect x="250.60" y="620.60" width="59.20" height="55.00" fill="#031403"/>
<rect x="250.60" y="620.60" width="59.20" height="55.00" fill="#000" filter="url(#mic4)"/>
<rect x="295.10" y="669.00" width="5.90" height="1.90" fill="#fff2f2"/>
<rect x="5.40" y="677.60" width="59.20" height="55.00" fill="#031403"/>
<rect x="5.40" y="677.60" width="59.20" height="55.00" fill="#000" filter="url(#mic5)"/>
<rect x="49.90" y="726.00" width="5.90" height="1.90" fill="#fff2f2"/>
<rect x="66.70" y="677.60" width="59.20" height="55.00" fill="#031403"/>
<rect x="66.70" y="677.60" width="59.20" height="55.00" fill="#000" filter="url(#mic6)"/>
<rect x="111.20" y="726.00" width="5.90" height="1.90" fill="#fff2f2"/>
<rect x="128.00" y="677.60" width="59.20" height="55.00" fill="#031403"/>
<rect x="128.00" y="677.60" width="59.20" height="55.00" fill="#000" filter="url(#mic7)"/>
<rect x="172.50" y="726.00" width="5.90" height="1.90" fill="#fff2f2"/>
<rect x="189.30" y="677.60" width="59.20" height="55.00" fill="#031403"/>
<rect x="189.30" y="677.60" width="59.20" height="55.00" fill="#000" filter="url(#mic8)"/>
<rect x="233.80" y="726.00" width="5.90" height="1.90" fill="#fff2f2"/>
<rect x="250.60" y="677.60" width="59.20" height="55.00" fill="#031403"/>
<rect x="250.60" y="677.60" width="59.20" height="55.00" fill="#000" filter="url(#mic9)"/>
<rect x="295.10" y="726.00" width="5.90" height="1.90" fill="#fff2f2"/>
<text x="288.80" y="724.60" font-size="5.6" fill="#fff">100 μm</text>
<rect x="354.90" y="684.78" width="10.00" height="29.42" fill="#d2d2d2"/>
<rect x="370.00" y="678.31" width="10.00" height="35.89" fill="#fddcdc"/>
<rect x="385.10" y="653.89" width="10.00" height="60.31" fill="#fba2a2"/>
<rect x="400.20" y="655.07" width="10.00" height="59.13" fill="#f87b7b"/>
<rect x="415.30" y="635.94" width="10.00" height="78.26" fill="#f14444"/>
<rect x="430.40" y="681.25" width="10.00" height="32.95" fill="#fddcdc"/>
<rect x="445.50" y="668.30" width="10.00" height="45.90" fill="#fba2a2"/>
<rect x="460.60" y="673.01" width="10.00" height="41.19" fill="#f87b7b"/>
<rect x="475.70" y="651.24" width="10.00" height="62.96" fill="#f14444"/>
<line x1="350.00" y1="595.94" x2="350.00" y2="714.78" stroke="#1a1a1a" stroke-width="1.15"/>
<line x1="349.43" y1="714.20" x2="492.00" y2="714.20" stroke="#1a1a1a" stroke-width="1.15"/>
<line x1="345.00" y1="714.20" x2="350.00" y2="714.20" stroke="#1a1a1a" stroke-width="1.15"/>
<text x="343.40" y="717.60" font-size="9.5" fill="#111" text-anchor="end">0</text>
<line x1="345.00" y1="684.78" x2="350.00" y2="684.78" stroke="#1a1a1a" stroke-width="1.15"/>
<text x="343.40" y="688.18" font-size="9.5" fill="#111" text-anchor="end">1</text>
<line x1="345.00" y1="655.36" x2="350.00" y2="655.36" stroke="#1a1a1a" stroke-width="1.15"/>
<text x="343.40" y="658.76" font-size="9.5" fill="#111" text-anchor="end">2</text>
<line x1="345.00" y1="625.94" x2="350.00" y2="625.94" stroke="#1a1a1a" stroke-width="1.15"/>
<text x="343.40" y="629.34" font-size="9.5" fill="#111" text-anchor="end">3</text>
<line x1="345.00" y1="596.52" x2="350.00" y2="596.52" stroke="#1a1a1a" stroke-width="1.15"/>
<text x="343.40" y="599.92" font-size="9.5" fill="#111" text-anchor="end">4</text>
<line x1="359.90" y1="714.20" x2="359.90" y2="719.60" stroke="#1a1a1a" stroke-width="1.15"/>
<text x="362.60" y="727.10" font-size="8.5" fill="#111" text-anchor="end" transform="rotate(-45 362.60 727.10)">3.1Vector</text>
<line x1="375.00" y1="714.20" x2="375.00" y2="719.60" stroke="#1a1a1a" stroke-width="1.15"/>
<text x="377.70" y="727.10" font-size="8.5" fill="#111" text-anchor="end" transform="rotate(-45 377.70 727.10)">1:1</text>
<line x1="390.10" y1="714.20" x2="390.10" y2="719.60" stroke="#1a1a1a" stroke-width="1.15"/>
<text x="392.80" y="727.10" font-size="8.5" fill="#111" text-anchor="end" transform="rotate(-45 392.80 727.10)">1:2</text>
<line x1="405.20" y1="714.20" x2="405.20" y2="719.60" stroke="#1a1a1a" stroke-width="1.15"/>
<text x="407.90" y="727.10" font-size="8.5" fill="#111" text-anchor="end" transform="rotate(-45 407.90 727.10)">1:3</text>
<line x1="420.30" y1="714.20" x2="420.30" y2="719.60" stroke="#1a1a1a" stroke-width="1.15"/>
<text x="423.00" y="727.10" font-size="8.5" fill="#111" text-anchor="end" transform="rotate(-45 423.00 727.10)">1:4</text>
<line x1="435.40" y1="714.20" x2="435.40" y2="719.60" stroke="#1a1a1a" stroke-width="1.15"/>
<text x="438.10" y="727.10" font-size="8.5" fill="#111" text-anchor="end" transform="rotate(-45 438.10 727.10)">1:1</text>
<line x1="450.50" y1="714.20" x2="450.50" y2="719.60" stroke="#1a1a1a" stroke-width="1.15"/>
<text x="453.20" y="727.10" font-size="8.5" fill="#111" text-anchor="end" transform="rotate(-45 453.20 727.10)">1:2</text>
<line x1="465.60" y1="714.20" x2="465.60" y2="719.60" stroke="#1a1a1a" stroke-width="1.15"/>
<text x="468.30" y="727.10" font-size="8.5" fill="#111" text-anchor="end" transform="rotate(-45 468.30 727.10)">1:3</text>
<line x1="480.70" y1="714.20" x2="480.70" y2="719.60" stroke="#1a1a1a" stroke-width="1.15"/>
<text x="483.40" y="727.10" font-size="8.5" fill="#111" text-anchor="end" transform="rotate(-45 483.40 727.10)">1:4</text>
<line x1="350.00" y1="684.78" x2="492.00" y2="684.78" stroke="#e8211f" stroke-width="0.95" stroke-dasharray="2.2 1.3"/>
<text x="419.60" y="600.90" font-size="10.75" fill="#111" text-anchor="middle">EGFP fluorescence</text>
<text x="331.80" y="656.00" font-size="10.7" fill="#111" text-anchor="middle" transform="rotate(-90 331.80 656.00)">Fold change of EGFP</text>
<line x1="359.90" y1="677.43" x2="359.90" y2="693.90" stroke="#000" stroke-width="0.85"/>
<line x1="357.70" y1="677.43" x2="362.10" y2="677.43" stroke="#000" stroke-width="0.85"/>
<line x1="357.70" y1="693.90" x2="362.10" y2="693.90" stroke="#000" stroke-width="0.85"/>
<rect x="354.88" y="678.27" width="2.43" height="2.43" fill="none" stroke="#000" stroke-width="0.65"/>
<circle cx="363.50" cy="681.54" r="1.35" fill="none" stroke="#000" stroke-width="0.65"/>
<polygon points="359.90,690.77 361.72,694.07 358.08,694.07" fill="none" stroke="#000" stroke-width="0.55"/>
<line x1="375.00" y1="671.25" x2="375.00" y2="684.19" stroke="#000" stroke-width="0.85"/>
<line x1="372.80" y1="671.25" x2="377.20" y2="671.25" stroke="#000" stroke-width="0.85"/>
<line x1="372.80" y1="684.19" x2="377.20" y2="684.19" stroke="#000" stroke-width="0.85"/>
<circle cx="375.00" cy="679.48" r="1.35" fill="none" stroke="#000" stroke-width="0.65"/>
<polygon points="375.00,670.47 376.82,673.77 373.18,673.77" fill="none" stroke="#000" stroke-width="0.55"/>
<polygon points="375.00,681.94 376.75,683.90 375.00,685.85 373.25,683.90" fill="none" stroke="#000" stroke-width="0.55"/>
<line x1="390.10" y1="648.59" x2="390.10" y2="655.95" stroke="#000" stroke-width="0.85"/>
<line x1="387.90" y1="648.59" x2="392.30" y2="648.59" stroke="#000" stroke-width="0.85"/>
<line x1="387.90" y1="655.95" x2="392.30" y2="655.95" stroke="#000" stroke-width="0.85"/>
<rect x="385.38" y="653.26" width="2.43" height="2.43" fill="none" stroke="#000" stroke-width="0.65"/>
<circle cx="393.60" cy="654.18" r="1.35" fill="none" stroke="#000" stroke-width="0.65"/>
<polygon points="390.10,648.11 391.92,651.41 388.28,651.41" fill="none" stroke="#000" stroke-width="0.55"/>
<line x1="405.20" y1="649.48" x2="405.20" y2="659.77" stroke="#000" stroke-width="0.85"/>
<line x1="403.00" y1="649.48" x2="407.40" y2="649.48" stroke="#000" stroke-width="0.85"/>
<line x1="403.00" y1="659.77" x2="407.40" y2="659.77" stroke="#000" stroke-width="0.85"/>
<circle cx="405.20" cy="656.24" r="1.35" fill="none" stroke="#000" stroke-width="0.65"/>
<polygon points="405.20,648.70 407.02,652.00 403.38,652.00" fill="none" stroke="#000" stroke-width="0.55"/>
<polygon points="405.20,656.93 406.95,658.89 405.20,660.85 403.44,658.89" fill="none" stroke="#000" stroke-width="0.55"/>
<line x1="420.30" y1="627.12" x2="420.30" y2="644.77" stroke="#000" stroke-width="0.85"/>
<line x1="418.10" y1="627.12" x2="422.50" y2="627.12" stroke="#000" stroke-width="0.85"/>
<line x1="418.10" y1="644.77" x2="422.50" y2="644.77" stroke="#000" stroke-width="0.85"/>
<circle cx="420.30" cy="637.12" r="1.35" fill="none" stroke="#000" stroke-width="0.65"/>
<polygon points="420.30,630.84 422.12,627.53 418.48,627.53" fill="none" stroke="#000" stroke-width="0.55"/>
<polygon points="420.30,642.22 422.05,644.18 420.30,646.14 418.54,644.18" fill="none" stroke="#000" stroke-width="0.55"/>
<line x1="435.40" y1="673.01" x2="435.40" y2="685.96" stroke="#000" stroke-width="0.85"/>
<line x1="433.20" y1="673.01" x2="437.60" y2="673.01" stroke="#000" stroke-width="0.85"/>
<line x1="433.20" y1="685.96" x2="437.60" y2="685.96" stroke="#000" stroke-width="0.85"/>
<rect x="431.19" y="683.57" width="2.43" height="2.43" fill="none" stroke="#000" stroke-width="0.65"/>
<circle cx="439.00" cy="683.01" r="1.35" fill="none" stroke="#000" stroke-width="0.65"/>
<polygon points="435.40,671.64 437.22,674.95 433.58,674.95" fill="none" stroke="#000" stroke-width="0.55"/>
<line x1="450.50" y1="655.95" x2="450.50" y2="678.31" stroke="#000" stroke-width="0.85"/>
<line x1="448.30" y1="655.95" x2="452.70" y2="655.95" stroke="#000" stroke-width="0.85"/>
<line x1="448.30" y1="678.31" x2="452.70" y2="678.31" stroke="#000" stroke-width="0.85"/>
<circle cx="450.50" cy="670.07" r="1.35" fill="none" stroke="#000" stroke-width="0.65"/>
<polygon points="450.50,654.87 452.32,658.18 448.68,658.18" fill="none" stroke="#000" stroke-width="0.55"/>
<polygon points="450.50,675.47 452.25,677.43 450.50,679.38 448.75,677.43" fill="none" stroke="#000" stroke-width="0.55"/>
<line x1="465.60" y1="667.13" x2="465.60" y2="679.48" stroke="#000" stroke-width="0.85"/>
<line x1="463.40" y1="667.13" x2="467.80" y2="667.13" stroke="#000" stroke-width="0.85"/>
<line x1="463.40" y1="679.48" x2="467.80" y2="679.48" stroke="#000" stroke-width="0.85"/>
<rect x="461.08" y="668.27" width="2.43" height="2.43" fill="none" stroke="#000" stroke-width="0.65"/>
<circle cx="469.20" cy="670.07" r="1.35" fill="none" stroke="#000" stroke-width="0.65"/>
<polygon points="465.60,676.94 467.42,680.25 463.78,680.25" fill="none" stroke="#000" stroke-width="0.55"/>
<line x1="480.70" y1="646.53" x2="480.70" y2="654.77" stroke="#000" stroke-width="0.85"/>
<line x1="478.50" y1="646.53" x2="482.90" y2="646.53" stroke="#000" stroke-width="0.85"/>
<line x1="478.50" y1="654.77" x2="482.90" y2="654.77" stroke="#000" stroke-width="0.85"/>
<rect x="476.19" y="651.79" width="2.43" height="2.43" fill="none" stroke="#000" stroke-width="0.65"/>
<circle cx="484.30" cy="651.83" r="1.35" fill="none" stroke="#000" stroke-width="0.65"/>
<polygon points="480.70,645.16 482.52,648.47 478.88,648.47" fill="none" stroke="#000" stroke-width="0.55"/>
<text x="375.18" y="668.03" font-size="7.0" fill="#111" text-anchor="middle">ns</text>
<text x="389.63" y="647.01" font-size="7.0" fill="#111" text-anchor="middle"><tspan font-style="italic">P</tspan> &lt; 0.0001</text>
<text x="399.61" y="634.92" font-size="7.0" fill="#111" text-anchor="middle"><tspan font-style="italic">P</tspan> = 0.0001</text>
<text x="420.11" y="621.78" font-size="7.0" fill="#111" text-anchor="middle"><tspan font-style="italic">P</tspan> &lt; 0.0001</text>
<text x="433.77" y="669.60" font-size="7.0" fill="#111" text-anchor="middle">ns</text>
<text x="450.58" y="652.79" font-size="7.0" fill="#111" text-anchor="middle"><tspan font-style="italic">P</tspan> = 0.0296</text>
<text x="465.30" y="664.09" font-size="7.0" fill="#111" text-anchor="middle">ns</text>
<text x="480.80" y="642.28" font-size="7.0" fill="#111" text-anchor="middle"><tspan font-style="italic">P</tspan> &lt; 0.0001</text>
<line x1="363.40" y1="740.60" x2="421.20" y2="740.60" stroke="#222" stroke-width="0.8"/>
<line x1="423.80" y1="740.60" x2="480.80" y2="740.60" stroke="#222" stroke-width="0.8"/>
<text x="390.90" y="755.50" font-size="9.6" fill="#111" text-anchor="middle">F-GAA-3-1</text>
<text x="451.40" y="755.50" font-size="9.6" fill="#111" text-anchor="middle">L-CAG-1-1</text>
<text x="501.00" y="598.00" font-size="17" font-weight="bold">j</text>
<rect x="544.20" y="686.20" width="9.80" height="29.50" fill="#d2d2d2"/>
<rect x="559.29" y="663.78" width="9.80" height="51.92" fill="#fddcdc"/>
<rect x="574.38" y="647.56" width="9.80" height="68.14" fill="#fba2a2"/>
<rect x="589.47" y="641.66" width="9.80" height="74.04" fill="#f87b7b"/>
<rect x="604.56" y="634.58" width="9.80" height="81.12" fill="#f14444"/>
<rect x="619.65" y="657.88" width="9.80" height="57.82" fill="#fddcdc"/>
<rect x="634.74" y="653.46" width="9.80" height="62.24" fill="#fba2a2"/>
<rect x="649.83" y="658.47" width="9.80" height="57.23" fill="#f87b7b"/>
<rect x="664.92" y="652.57" width="9.80" height="63.13" fill="#f14444"/>
<line x1="539.50" y1="597.12" x2="539.50" y2="716.28" stroke="#1a1a1a" stroke-width="1.15"/>
<line x1="538.92" y1="715.70" x2="680.40" y2="715.70" stroke="#1a1a1a" stroke-width="1.15"/>
<line x1="534.50" y1="715.70" x2="539.50" y2="715.70" stroke="#1a1a1a" stroke-width="1.15"/>
<text x="532.90" y="719.10" font-size="9.5" fill="#111" text-anchor="end">0</text>
<line x1="534.50" y1="686.20" x2="539.50" y2="686.20" stroke="#1a1a1a" stroke-width="1.15"/>
<text x="532.90" y="689.60" font-size="9.5" fill="#111" text-anchor="end">1</text>
<line x1="534.50" y1="656.70" x2="539.50" y2="656.70" stroke="#1a1a1a" stroke-width="1.15"/>
<text x="532.90" y="660.10" font-size="9.5" fill="#111" text-anchor="end">2</text>
<line x1="534.50" y1="627.20" x2="539.50" y2="627.20" stroke="#1a1a1a" stroke-width="1.15"/>
<text x="532.90" y="630.60" font-size="9.5" fill="#111" text-anchor="end">3</text>
<line x1="534.50" y1="597.70" x2="539.50" y2="597.70" stroke="#1a1a1a" stroke-width="1.15"/>
<text x="532.90" y="601.10" font-size="9.5" fill="#111" text-anchor="end">4</text>
<line x1="549.10" y1="715.70" x2="549.10" y2="721.10" stroke="#1a1a1a" stroke-width="1.15"/>
<text x="551.80" y="728.60" font-size="8.5" fill="#111" text-anchor="end" transform="rotate(-45 551.80 728.60)">3.1Vector</text>
<line x1="564.19" y1="715.70" x2="564.19" y2="721.10" stroke="#1a1a1a" stroke-width="1.15"/>
<text x="566.89" y="728.60" font-size="8.5" fill="#111" text-anchor="end" transform="rotate(-45 566.89 728.60)">1:1</text>
<line x1="579.28" y1="715.70" x2="579.28" y2="721.10" stroke="#1a1a1a" stroke-width="1.15"/>
<text x="581.98" y="728.60" font-size="8.5" fill="#111" text-anchor="end" transform="rotate(-45 581.98 728.60)">1:2</text>
<line x1="594.37" y1="715.70" x2="594.37" y2="721.10" stroke="#1a1a1a" stroke-width="1.15"/>
<text x="597.07" y="728.60" font-size="8.5" fill="#111" text-anchor="end" transform="rotate(-45 597.07 728.60)">1:3</text>
<line x1="609.46" y1="715.70" x2="609.46" y2="721.10" stroke="#1a1a1a" stroke-width="1.15"/>
<text x="612.16" y="728.60" font-size="8.5" fill="#111" text-anchor="end" transform="rotate(-45 612.16 728.60)">1:4</text>
<line x1="624.55" y1="715.70" x2="624.55" y2="721.10" stroke="#1a1a1a" stroke-width="1.15"/>
<text x="627.25" y="728.60" font-size="8.5" fill="#111" text-anchor="end" transform="rotate(-45 627.25 728.60)">1:1</text>
<line x1="639.64" y1="715.70" x2="639.64" y2="721.10" stroke="#1a1a1a" stroke-width="1.15"/>
<text x="642.34" y="728.60" font-size="8.5" fill="#111" text-anchor="end" transform="rotate(-45 642.34 728.60)">1:2</text>
<line x1="654.73" y1="715.70" x2="654.73" y2="721.10" stroke="#1a1a1a" stroke-width="1.15"/>
<text x="657.43" y="728.60" font-size="8.5" fill="#111" text-anchor="end" transform="rotate(-45 657.43 728.60)">1:3</text>
<line x1="669.82" y1="715.70" x2="669.82" y2="721.10" stroke="#1a1a1a" stroke-width="1.15"/>
<text x="672.52" y="728.60" font-size="8.5" fill="#111" text-anchor="end" transform="rotate(-45 672.52 728.60)">1:4</text>
<line x1="539.50" y1="686.20" x2="680.40" y2="686.20" stroke="#e8211f" stroke-width="0.95" stroke-dasharray="2.2 1.3"/>
<text x="610.70" y="601.20" font-size="10.8" fill="#111" text-anchor="middle">Spike protein</text>
<text x="521.00" y="656.60" font-size="10.7" fill="#111" text-anchor="middle" transform="rotate(-90 521.00 656.60)">Fold change of Spike</text>
<circle cx="545.40" cy="686.20" r="1.35" fill="none" stroke="#000" stroke-width="0.65"/>
<circle cx="552.80" cy="686.20" r="1.35" fill="none" stroke="#000" stroke-width="0.65"/>
<circle cx="560.49" cy="663.19" r="1.35" fill="none" stroke="#000" stroke-width="0.65"/>
<circle cx="567.89" cy="663.19" r="1.35" fill="none" stroke="#000" stroke-width="0.65"/>
<circle cx="579.28" cy="645.20" r="1.35" fill="none" stroke="#000" stroke-width="0.65"/>
<circle cx="579.28" cy="649.33" r="1.35" fill="none" stroke="#000" stroke-width="0.65"/>
<circle cx="594.37" cy="630.74" r="1.35" fill="none" stroke="#000" stroke-width="0.65"/>
<circle cx="594.37" cy="651.69" r="1.35" fill="none" stroke="#000" stroke-width="0.65"/>
<circle cx="609.46" cy="620.12" r="1.35" fill="none" stroke="#000" stroke-width="0.65"/>
<circle cx="609.46" cy="649.33" r="1.35" fill="none" stroke="#000" stroke-width="0.65"/>
<circle cx="624.55" cy="648.44" r="1.35" fill="none" stroke="#000" stroke-width="0.65"/>
<circle cx="624.55" cy="667.62" r="1.35" fill="none" stroke="#000" stroke-width="0.65"/>
<circle cx="639.64" cy="651.39" r="1.35" fill="none" stroke="#000" stroke-width="0.65"/>
<circle cx="639.64" cy="654.93" r="1.35" fill="none" stroke="#000" stroke-width="0.65"/>
<circle cx="654.73" cy="648.14" r="1.35" fill="none" stroke="#000" stroke-width="0.65"/>
<circle cx="654.73" cy="669.09" r="1.35" fill="none" stroke="#000" stroke-width="0.65"/>
<circle cx="669.82" cy="642.54" r="1.35" fill="none" stroke="#000" stroke-width="0.65"/>
<circle cx="669.82" cy="663.19" r="1.35" fill="none" stroke="#000" stroke-width="0.65"/>
<line x1="554.00" y1="741.70" x2="609.40" y2="741.70" stroke="#222" stroke-width="0.9"/>
<line x1="614.00" y1="741.70" x2="669.90" y2="741.70" stroke="#222" stroke-width="0.9"/>
<text x="581.60" y="756.50" font-size="9.6" fill="#111" text-anchor="middle">F-GAA-3-1</text>
<text x="642.30" y="756.50" font-size="9.6" fill="#111" text-anchor="middle">L-CAG-1-1</text>
<text x="0.00" y="772.40" font-size="17" font-weight="bold">k</text>
<rect x="52.65" y="899.72" width="9.90" height="16.68" fill="#d2d2d2"/>
<rect x="67.94" y="840.70" width="9.90" height="75.70" fill="#fd9e9e"/>
<rect x="83.23" y="903.97" width="9.90" height="12.43" fill="#fd9e9e"/>
<rect x="98.52" y="859.34" width="9.90" height="57.06" fill="#fd9e9e"/>
<rect x="113.81" y="885.33" width="9.90" height="31.07" fill="#fd9e9e"/>
<rect x="129.10" y="871.76" width="9.90" height="44.64" fill="#fd9e9e"/>
<rect x="144.39" y="877.16" width="9.90" height="39.24" fill="#fd9e9e"/>
<rect x="159.68" y="840.05" width="9.90" height="76.35" fill="#fd9e9e"/>
<rect x="174.97" y="887.95" width="9.90" height="28.45" fill="#fd9e9e"/>
<rect x="190.26" y="909.86" width="9.90" height="6.54" fill="#fd9e9e"/>
<rect x="205.55" y="901.36" width="9.90" height="15.04" fill="#fd9e9e"/>
<rect x="220.84" y="874.05" width="9.90" height="42.35" fill="#fd9e9e"/>
<rect x="236.13" y="875.52" width="9.90" height="40.88" fill="#fd9e9e"/>
<rect x="251.42" y="885.50" width="9.90" height="30.90" fill="#fdd2d2"/>
<rect x="266.71" y="880.59" width="9.90" height="35.81" fill="#fdd2d2"/>
<rect x="282.00" y="907.73" width="9.90" height="8.67" fill="#fde0e0"/>
<line x1="47.90" y1="785.02" x2="47.90" y2="916.98" stroke="#1a1a1a" stroke-width="1.15"/>
<line x1="47.32" y1="916.40" x2="299.00" y2="916.40" stroke="#1a1a1a" stroke-width="1.15"/>
<line x1="42.70" y1="916.40" x2="47.90" y2="916.40" stroke="#1a1a1a" stroke-width="1.15"/>
<text x="41.10" y="919.80" font-size="9.5" fill="#111" text-anchor="end">0</text>
<line x1="42.70" y1="883.70" x2="47.90" y2="883.70" stroke="#1a1a1a" stroke-width="1.15"/>
<text x="41.10" y="887.10" font-size="9.5" fill="#111" text-anchor="end">2</text>
<line x1="42.70" y1="851.00" x2="47.90" y2="851.00" stroke="#1a1a1a" stroke-width="1.15"/>
<text x="41.10" y="854.40" font-size="9.5" fill="#111" text-anchor="end">4</text>
<line x1="42.70" y1="818.30" x2="47.90" y2="818.30" stroke="#1a1a1a" stroke-width="1.15"/>
<text x="41.10" y="821.70" font-size="9.5" fill="#111" text-anchor="end">6</text>
<line x1="42.70" y1="785.60" x2="47.90" y2="785.60" stroke="#1a1a1a" stroke-width="1.15"/>
<text x="41.10" y="789.00" font-size="9.5" fill="#111" text-anchor="end">8</text>
<line x1="57.60" y1="916.40" x2="57.60" y2="922.20" stroke="#1a1a1a" stroke-width="1.15"/>
<text x="60.40" y="929.50" font-size="9.3" fill="#111" text-anchor="end" transform="rotate(-45 60.40 929.50)">3.1Vector</text>
<line x1="72.89" y1="916.40" x2="72.89" y2="922.20" stroke="#1a1a1a" stroke-width="1.15"/>
<text x="75.69" y="929.50" font-size="9.3" fill="#111" text-anchor="end" transform="rotate(-45 75.69 929.50)">F-GAA-3-1</text>
<line x1="88.18" y1="916.40" x2="88.18" y2="922.20" stroke="#1a1a1a" stroke-width="1.15"/>
<text x="90.98" y="929.50" font-size="9.3" fill="#111" text-anchor="end" transform="rotate(-45 90.98 929.50)">F-GAA-11-1</text>
<line x1="103.47" y1="916.40" x2="103.47" y2="922.20" stroke="#1a1a1a" stroke-width="1.15"/>
<text x="106.27" y="929.50" font-size="9.3" fill="#111" text-anchor="end" transform="rotate(-45 106.27 929.50)">L-CAG-1-1</text>
<line x1="118.76" y1="916.40" x2="118.76" y2="922.20" stroke="#1a1a1a" stroke-width="1.15"/>
<text x="121.56" y="929.50" font-size="9.3" fill="#111" text-anchor="end" transform="rotate(-45 121.56 929.50)">V-CAC-9-1</text>
<line x1="134.05" y1="916.40" x2="134.05" y2="922.20" stroke="#1a1a1a" stroke-width="1.15"/>
<text x="136.85" y="929.50" font-size="9.3" fill="#111" text-anchor="end" transform="rotate(-45 136.85 929.50)">I-GAT-1-1</text>
<line x1="149.34" y1="916.40" x2="149.34" y2="922.20" stroke="#1a1a1a" stroke-width="1.15"/>
<text x="152.14" y="929.50" font-size="9.3" fill="#111" text-anchor="end" transform="rotate(-45 152.14 929.50)">A-AGC-2-1</text>
<line x1="164.63" y1="916.40" x2="164.63" y2="922.20" stroke="#1a1a1a" stroke-width="1.15"/>
<text x="167.43" y="929.50" font-size="9.3" fill="#111" text-anchor="end" transform="rotate(-45 167.43 929.50)">A-GGC-2-1</text>
<line x1="179.92" y1="916.40" x2="179.92" y2="922.20" stroke="#1a1a1a" stroke-width="1.15"/>
<text x="182.72" y="929.50" font-size="9.3" fill="#111" text-anchor="end" transform="rotate(-45 182.72 929.50)">G-GCC-5-1</text>
<line x1="195.21" y1="916.40" x2="195.21" y2="922.20" stroke="#1a1a1a" stroke-width="1.15"/>
<text x="198.01" y="929.50" font-size="9.3" fill="#111" text-anchor="end" transform="rotate(-45 198.01 929.50)">G-GCC-1-1</text>
<line x1="210.50" y1="916.40" x2="210.50" y2="922.20" stroke="#1a1a1a" stroke-width="1.15"/>
<text x="213.30" y="929.50" font-size="9.3" fill="#111" text-anchor="end" transform="rotate(-45 213.30 929.50)">Y-GTA-1-1</text>
<line x1="225.79" y1="916.40" x2="225.79" y2="922.20" stroke="#1a1a1a" stroke-width="1.15"/>
<text x="228.59" y="929.50" font-size="9.3" fill="#111" text-anchor="end" transform="rotate(-45 228.59 929.50)">T-AGT-7-1</text>
<line x1="241.08" y1="916.40" x2="241.08" y2="922.20" stroke="#1a1a1a" stroke-width="1.15"/>
<text x="243.88" y="929.50" font-size="9.3" fill="#111" text-anchor="end" transform="rotate(-45 243.88 929.50)">T-GGT-7-1</text>
<line x1="256.37" y1="916.40" x2="256.37" y2="922.20" stroke="#1a1a1a" stroke-width="1.15"/>
<text x="259.17" y="929.50" font-size="9.3" fill="#111" text-anchor="end" transform="rotate(-45 259.17 929.50)">iM-CAT-3-1</text>
<line x1="271.66" y1="916.40" x2="271.66" y2="922.20" stroke="#1a1a1a" stroke-width="1.15"/>
<text x="274.46" y="929.50" font-size="9.3" fill="#111" text-anchor="end" transform="rotate(-45 274.46 929.50)">E-CTC-1-1</text>
<line x1="286.95" y1="916.40" x2="286.95" y2="922.20" stroke="#1a1a1a" stroke-width="1.15"/>
<text x="289.75" y="929.50" font-size="9.3" fill="#111" text-anchor="end" transform="rotate(-45 289.75 929.50)">E-CTC-3-1</text>
<line x1="47.90" y1="900.05" x2="299.00" y2="900.05" stroke="#e8211f" stroke-width="0.95" stroke-dasharray="2.2 1.3"/>
<text x="173.20" y="781.80" font-size="10.8" fill="#111" text-anchor="middle">Overexpression of optimal tRNAs</text>
<text x="29.80" y="851.80" font-size="10.7" fill="#111" text-anchor="middle" transform="rotate(-90 29.80 851.80)">Fold change of Spike protein</text>
<circle cx="54.00" cy="900.05" r="1.30" fill="none" stroke="#000" stroke-width="0.65"/>
<circle cx="57.60" cy="900.05" r="1.30" fill="none" stroke="#000" stroke-width="0.65"/>
<circle cx="61.20" cy="900.05" r="1.30" fill="none" stroke="#000" stroke-width="0.65"/>
<line x1="72.89" y1="826.64" x2="72.89" y2="854.92" stroke="#000" stroke-width="0.85"/>
<line x1="70.69" y1="826.64" x2="75.09" y2="826.64" stroke="#000" stroke-width="0.85"/>
<line x1="70.69" y1="854.92" x2="75.09" y2="854.92" stroke="#000" stroke-width="0.85"/>
<polygon points="72.89,824.59 74.64,827.77 71.14,827.77" fill="none" stroke="#000" stroke-width="0.55"/>
<circle cx="72.89" cy="840.70" r="1.30" fill="none" stroke="#000" stroke-width="0.65"/>
<polygon points="72.89,852.71 74.58,854.60 72.89,856.48 71.20,854.60" fill="none" stroke="#000" stroke-width="0.55"/>
<line x1="88.18" y1="896.13" x2="88.18" y2="906.43" stroke="#000" stroke-width="0.85"/>
<line x1="85.98" y1="896.13" x2="90.38" y2="896.13" stroke="#000" stroke-width="0.85"/>
<line x1="85.98" y1="906.43" x2="90.38" y2="906.43" stroke="#000" stroke-width="0.85"/>
<rect x="83.61" y="904.44" width="2.34" height="2.34" fill="none" stroke="#000" stroke-width="0.65"/>
<circle cx="91.78" cy="903.65" r="1.30" fill="none" stroke="#000" stroke-width="0.65"/>
<polygon points="88.18,894.89 89.94,898.08 86.43,898.08" fill="none" stroke="#000" stroke-width="0.55"/>
<line x1="103.47" y1="852.63" x2="103.47" y2="867.35" stroke="#000" stroke-width="0.85"/>
<line x1="101.27" y1="852.63" x2="105.67" y2="852.63" stroke="#000" stroke-width="0.85"/>
<line x1="101.27" y1="867.35" x2="105.67" y2="867.35" stroke="#000" stroke-width="0.85"/>
<polygon points="103.47,855.34 105.22,852.15 101.72,852.15" fill="none" stroke="#000" stroke-width="0.55"/>
<circle cx="103.47" cy="857.54" r="1.30" fill="none" stroke="#000" stroke-width="0.65"/>
<polygon points="103.47,864.65 105.16,866.53 103.47,868.42 101.78,866.53" fill="none" stroke="#000" stroke-width="0.55"/>
<line x1="118.76" y1="869.97" x2="118.76" y2="899.72" stroke="#000" stroke-width="0.85"/>
<line x1="116.56" y1="869.97" x2="120.96" y2="869.97" stroke="#000" stroke-width="0.85"/>
<line x1="116.56" y1="899.72" x2="120.96" y2="899.72" stroke="#000" stroke-width="0.85"/>
<polygon points="118.76,868.74 120.51,871.92 117.00,871.92" fill="none" stroke="#000" stroke-width="0.55"/>
<circle cx="118.76" cy="886.15" r="1.30" fill="none" stroke="#000" stroke-width="0.65"/>
<polygon points="118.76,897.35 120.45,899.23 118.76,901.12 117.07,899.23" fill="none" stroke="#000" stroke-width="0.55"/>
<line x1="134.05" y1="851.82" x2="134.05" y2="890.24" stroke="#000" stroke-width="0.85"/>
<line x1="131.85" y1="851.82" x2="136.25" y2="851.82" stroke="#000" stroke-width="0.85"/>
<line x1="131.85" y1="890.24" x2="136.25" y2="890.24" stroke="#000" stroke-width="0.85"/>
<circle cx="134.05" cy="851.82" r="1.30" fill="none" stroke="#000" stroke-width="0.65"/>
<circle cx="134.05" cy="873.56" r="1.30" fill="none" stroke="#000" stroke-width="0.65"/>
<polygon points="134.05,887.05 135.80,890.23 132.29,890.23" fill="none" stroke="#000" stroke-width="0.55"/>
<line x1="149.34" y1="858.52" x2="149.34" y2="896.62" stroke="#000" stroke-width="0.85"/>
<line x1="147.14" y1="858.52" x2="151.54" y2="858.52" stroke="#000" stroke-width="0.85"/>
<line x1="147.14" y1="896.62" x2="151.54" y2="896.62" stroke="#000" stroke-width="0.85"/>
<polygon points="149.34,857.29 151.09,860.47 147.59,860.47" fill="none" stroke="#000" stroke-width="0.55"/>
<circle cx="149.34" cy="876.67" r="1.30" fill="none" stroke="#000" stroke-width="0.65"/>
<polygon points="149.34,894.40 151.03,896.29 149.34,898.17 147.65,896.29" fill="none" stroke="#000" stroke-width="0.55"/>
<line x1="164.63" y1="803.58" x2="164.63" y2="876.67" stroke="#000" stroke-width="0.85"/>
<line x1="162.43" y1="803.58" x2="166.83" y2="803.58" stroke="#000" stroke-width="0.85"/>
<line x1="162.43" y1="876.67" x2="166.83" y2="876.67" stroke="#000" stroke-width="0.85"/>
<circle cx="164.63" cy="798.68" r="1.30" fill="none" stroke="#000" stroke-width="0.65"/>
<circle cx="164.63" cy="851.82" r="1.30" fill="none" stroke="#000" stroke-width="0.65"/>
<circle cx="164.63" cy="869.48" r="1.30" fill="none" stroke="#000" stroke-width="0.65"/>
<line x1="179.92" y1="867.68" x2="179.92" y2="907.73" stroke="#000" stroke-width="0.85"/>
<line x1="177.72" y1="867.68" x2="182.12" y2="867.68" stroke="#000" stroke-width="0.85"/>
<line x1="177.72" y1="907.73" x2="182.12" y2="907.73" stroke="#000" stroke-width="0.85"/>
<circle cx="179.92" cy="867.35" r="1.30" fill="none" stroke="#000" stroke-width="0.65"/>
<circle cx="179.92" cy="892.69" r="1.30" fill="none" stroke="#000" stroke-width="0.65"/>
<polygon points="179.92,902.25 181.67,905.44 178.16,905.44" fill="none" stroke="#000" stroke-width="0.55"/>
<line x1="195.21" y1="903.81" x2="195.21" y2="912.80" stroke="#000" stroke-width="0.85"/>
<line x1="193.01" y1="903.81" x2="197.41" y2="903.81" stroke="#000" stroke-width="0.85"/>
<line x1="193.01" y1="912.80" x2="197.41" y2="912.80" stroke="#000" stroke-width="0.85"/>
<rect x="190.64" y="909.83" width="2.34" height="2.34" fill="none" stroke="#000" stroke-width="0.65"/>
<circle cx="198.61" cy="911.00" r="1.30" fill="none" stroke="#000" stroke-width="0.65"/>
<polygon points="195.21,903.07 196.96,906.25 193.45,906.25" fill="none" stroke="#000" stroke-width="0.55"/>
<line x1="210.50" y1="893.84" x2="210.50" y2="906.26" stroke="#000" stroke-width="0.85"/>
<line x1="208.30" y1="893.84" x2="212.70" y2="893.84" stroke="#000" stroke-width="0.85"/>
<line x1="208.30" y1="906.26" x2="212.70" y2="906.26" stroke="#000" stroke-width="0.85"/>
<rect x="205.93" y="903.78" width="2.34" height="2.34" fill="none" stroke="#000" stroke-width="0.65"/>
<circle cx="213.90" cy="902.50" r="1.30" fill="none" stroke="#000" stroke-width="0.65"/>
<polygon points="210.50,893.26 212.25,896.44 208.74,896.44" fill="none" stroke="#000" stroke-width="0.55"/>
<line x1="225.79" y1="852.63" x2="225.79" y2="893.84" stroke="#000" stroke-width="0.85"/>
<line x1="223.59" y1="852.63" x2="227.99" y2="852.63" stroke="#000" stroke-width="0.85"/>
<line x1="223.59" y1="893.84" x2="227.99" y2="893.84" stroke="#000" stroke-width="0.85"/>
<circle cx="225.79" cy="853.45" r="1.30" fill="none" stroke="#000" stroke-width="0.65"/>
<circle cx="225.79" cy="882.88" r="1.30" fill="none" stroke="#000" stroke-width="0.65"/>
<polygon points="225.79,885.09 227.54,888.27 224.03,888.27" fill="none" stroke="#000" stroke-width="0.55"/>
<line x1="241.08" y1="861.63" x2="241.08" y2="888.93" stroke="#000" stroke-width="0.85"/>
<line x1="238.88" y1="861.63" x2="243.28" y2="861.63" stroke="#000" stroke-width="0.85"/>
<line x1="238.88" y1="888.93" x2="243.28" y2="888.93" stroke="#000" stroke-width="0.85"/>
<circle cx="241.08" cy="862.44" r="1.30" fill="none" stroke="#000" stroke-width="0.65"/>
<circle cx="241.08" cy="877.16" r="1.30" fill="none" stroke="#000" stroke-width="0.65"/>
<polygon points="241.08,883.45 242.83,886.63 239.32,886.63" fill="none" stroke="#000" stroke-width="0.55"/>
<line x1="256.37" y1="877.49" x2="256.37" y2="892.86" stroke="#000" stroke-width="0.85"/>
<line x1="254.17" y1="877.49" x2="258.57" y2="877.49" stroke="#000" stroke-width="0.85"/>
<line x1="254.17" y1="892.86" x2="258.57" y2="892.86" stroke="#000" stroke-width="0.85"/>
<polygon points="256.37,876.91 258.12,880.09 254.62,880.09" fill="none" stroke="#000" stroke-width="0.55"/>
<circle cx="256.37" cy="886.15" r="1.30" fill="none" stroke="#000" stroke-width="0.65"/>
<polygon points="256.37,889.99 258.06,891.88 256.37,893.76 254.68,891.88" fill="none" stroke="#000" stroke-width="0.55"/>
<line x1="271.66" y1="869.15" x2="271.66" y2="892.37" stroke="#000" stroke-width="0.85"/>
<line x1="269.46" y1="869.15" x2="273.86" y2="869.15" stroke="#000" stroke-width="0.85"/>
<line x1="269.46" y1="892.37" x2="273.86" y2="892.37" stroke="#000" stroke-width="0.85"/>
<polygon points="271.66,867.92 273.42,871.10 269.91,871.10" fill="none" stroke="#000" stroke-width="0.55"/>
<circle cx="271.66" cy="880.43" r="1.30" fill="none" stroke="#000" stroke-width="0.65"/>
<polygon points="271.66,889.17 273.35,891.06 271.66,892.94 269.97,891.06" fill="none" stroke="#000" stroke-width="0.55"/>
<line x1="286.95" y1="904.79" x2="286.95" y2="911.33" stroke="#000" stroke-width="0.85"/>
<line x1="284.75" y1="904.79" x2="289.15" y2="904.79" stroke="#000" stroke-width="0.85"/>
<line x1="284.75" y1="911.33" x2="289.15" y2="911.33" stroke="#000" stroke-width="0.85"/>
<rect x="282.38" y="905.09" width="2.34" height="2.34" fill="none" stroke="#000" stroke-width="0.65"/>
<circle cx="290.35" cy="906.59" r="1.30" fill="none" stroke="#000" stroke-width="0.65"/>
<polygon points="286.95,908.79 288.70,911.98 285.19,911.98" fill="none" stroke="#000" stroke-width="0.55"/>
<text x="72.70" y="822.00" font-size="7.0" fill="#111" text-anchor="middle"><tspan font-style="italic">P</tspan> &lt; 0.0001</text>
<text x="88.20" y="892.80" font-size="7.0" fill="#111" text-anchor="middle">ns</text>
<text x="103.30" y="848.40" font-size="7.0" fill="#111" text-anchor="middle"><tspan font-style="italic">P</tspan> = 0.0011</text>
<text x="118.70" y="866.70" font-size="7.0" fill="#111" text-anchor="middle">ns</text>
<text x="134.00" y="848.60" font-size="7.0" fill="#111" text-anchor="middle">ns</text>
<text x="149.20" y="854.30" font-size="7.0" fill="#111" text-anchor="middle">ns</text>
<text x="164.80" y="795.70" font-size="7.0" fill="#111" text-anchor="middle"><tspan font-style="italic">P</tspan> &lt; 0.0001</text>
<text x="179.70" y="862.30" font-size="7.0" fill="#111" text-anchor="middle">ns</text>
<text x="195.00" y="899.40" font-size="7.0" fill="#111" text-anchor="middle">ns</text>
<text x="210.40" y="891.50" font-size="7.0" fill="#111" text-anchor="middle">ns</text>
<text x="225.80" y="846.50" font-size="7.0" fill="#111" text-anchor="middle">ns</text>
<text x="241.20" y="857.40" font-size="7.0" fill="#111" text-anchor="middle">ns</text>
<text x="256.10" y="873.60" font-size="7.0" fill="#111" text-anchor="middle">ns</text>
<text x="271.50" y="864.00" font-size="7.0" fill="#111" text-anchor="middle">ns</text>
<text x="286.80" y="899.40" font-size="7.0" fill="#111" text-anchor="middle">ns</text>
<text x="136.40" y="842.00" font-size="7.0" fill="#111" transform="rotate(-90 136.40 842.00)">(<tspan font-style="italic">P</tspan> = 0.06)</text>
<text x="151.60" y="848.00" font-size="7.0" fill="#111" transform="rotate(-90 151.60 848.00)">(<tspan font-style="italic">P</tspan> = 0.24)</text>
<text x="228.20" y="841.50" font-size="7.0" fill="#111" transform="rotate(-90 228.20 841.50)">(<tspan font-style="italic">P</tspan> = 0.11)</text>
<text x="243.60" y="849.50" font-size="7.0" fill="#111" transform="rotate(-90 243.60 849.50)">(<tspan font-style="italic">P</tspan> = 0.17)</text>
<text x="273.90" y="858.50" font-size="7.0" fill="#111" transform="rotate(-90 273.90 858.50)">(<tspan font-style="italic">P</tspan> = 0.44)</text>
<rect x="368.20" y="881.42" width="9.80" height="32.58" fill="#d2d2d2"/>
<rect x="383.24" y="814.63" width="9.80" height="99.37" fill="#8ecad1"/>
<rect x="398.28" y="859.27" width="9.80" height="54.73" fill="#8ecad1"/>
<rect x="413.32" y="878.49" width="9.80" height="35.51" fill="#8ecad1"/>
<rect x="428.36" y="861.22" width="9.80" height="52.78" fill="#8ecad1"/>
<rect x="443.40" y="890.87" width="9.80" height="23.13" fill="#8ecad1"/>
<rect x="458.44" y="886.31" width="9.80" height="27.69" fill="#8ecad1"/>
<rect x="473.48" y="870.67" width="9.80" height="43.33" fill="#8ecad1"/>
<rect x="488.52" y="858.61" width="9.80" height="55.39" fill="#8ecad1"/>
<rect x="503.56" y="877.84" width="9.80" height="36.16" fill="#8ecad1"/>
<rect x="518.60" y="878.81" width="9.80" height="35.19" fill="#8ecad1"/>
<rect x="533.64" y="864.48" width="9.80" height="49.52" fill="#8ecad1"/>
<rect x="548.68" y="871.32" width="9.80" height="42.68" fill="#8ecad1"/>
<rect x="563.72" y="875.23" width="9.80" height="38.77" fill="#8ecad1"/>
<rect x="578.76" y="888.59" width="9.80" height="25.41" fill="#c6e4e8"/>
<rect x="593.80" y="833.53" width="9.80" height="80.47" fill="#c6e4e8"/>
<rect x="608.84" y="871.32" width="9.80" height="42.68" fill="#c6e4e8"/>
<rect x="623.88" y="892.17" width="9.80" height="21.83" fill="#c6e4e8"/>
<rect x="638.92" y="877.84" width="9.80" height="36.16" fill="#c6e4e8"/>
<rect x="653.96" y="903.25" width="9.80" height="10.75" fill="#c6e4e8"/>
<line x1="363.20" y1="783.11" x2="363.20" y2="914.58" stroke="#1a1a1a" stroke-width="1.15"/>
<line x1="362.62" y1="914.00" x2="670.80" y2="914.00" stroke="#1a1a1a" stroke-width="1.15"/>
<line x1="358.00" y1="914.00" x2="363.20" y2="914.00" stroke="#1a1a1a" stroke-width="1.15"/>
<text x="356.40" y="917.40" font-size="9.5" fill="#111" text-anchor="end">0</text>
<line x1="358.00" y1="881.42" x2="363.20" y2="881.42" stroke="#1a1a1a" stroke-width="1.15"/>
<text x="356.40" y="884.82" font-size="9.5" fill="#111" text-anchor="end">1</text>
<line x1="358.00" y1="848.84" x2="363.20" y2="848.84" stroke="#1a1a1a" stroke-width="1.15"/>
<text x="356.40" y="852.24" font-size="9.5" fill="#111" text-anchor="end">2</text>
<line x1="358.00" y1="816.26" x2="363.20" y2="816.26" stroke="#1a1a1a" stroke-width="1.15"/>
<text x="356.40" y="819.66" font-size="9.5" fill="#111" text-anchor="end">3</text>
<line x1="358.00" y1="783.68" x2="363.20" y2="783.68" stroke="#1a1a1a" stroke-width="1.15"/>
<text x="356.40" y="787.08" font-size="9.5" fill="#111" text-anchor="end">4</text>
<line x1="373.10" y1="914.00" x2="373.10" y2="919.80" stroke="#1a1a1a" stroke-width="1.15"/>
<text x="375.90" y="927.90" font-size="9.2" fill="#111" text-anchor="end" transform="rotate(-45 375.90 927.90)">3.1Vector</text>
<line x1="388.14" y1="914.00" x2="388.14" y2="919.80" stroke="#1a1a1a" stroke-width="1.15"/>
<text x="390.94" y="927.90" font-size="9.2" fill="#111" text-anchor="end" transform="rotate(-45 390.94 927.90)">P-AGG-1-1</text>
<line x1="403.18" y1="914.00" x2="403.18" y2="919.80" stroke="#1a1a1a" stroke-width="1.15"/>
<text x="405.98" y="927.90" font-size="9.2" fill="#111" text-anchor="end" transform="rotate(-45 405.98 927.90)">P-GGG-1-1</text>
<line x1="418.22" y1="914.00" x2="418.22" y2="919.80" stroke="#1a1a1a" stroke-width="1.15"/>
<text x="421.02" y="927.90" font-size="9.2" fill="#111" text-anchor="end" transform="rotate(-45 421.02 927.90)">T-TGT-1-1</text>
<line x1="433.26" y1="914.00" x2="433.26" y2="919.80" stroke="#1a1a1a" stroke-width="1.15"/>
<text x="436.06" y="927.90" font-size="9.2" fill="#111" text-anchor="end" transform="rotate(-45 436.06 927.90)">C-ACA-1-1</text>
<line x1="448.30" y1="914.00" x2="448.30" y2="919.80" stroke="#1a1a1a" stroke-width="1.15"/>
<text x="451.10" y="927.90" font-size="9.2" fill="#111" text-anchor="end" transform="rotate(-45 451.10 927.90)">D-GTC-2-1</text>
<line x1="463.34" y1="914.00" x2="463.34" y2="919.80" stroke="#1a1a1a" stroke-width="1.15"/>
<text x="466.14" y="927.90" font-size="9.2" fill="#111" text-anchor="end" transform="rotate(-45 466.14 927.90)">N-ATT-1-1</text>
<line x1="478.38" y1="914.00" x2="478.38" y2="919.80" stroke="#1a1a1a" stroke-width="1.15"/>
<text x="481.18" y="927.90" font-size="9.2" fill="#111" text-anchor="end" transform="rotate(-45 481.18 927.90)">E-TTC-3-1</text>
<line x1="493.42" y1="914.00" x2="493.42" y2="919.80" stroke="#1a1a1a" stroke-width="1.15"/>
<text x="496.22" y="927.90" font-size="9.2" fill="#111" text-anchor="end" transform="rotate(-45 496.22 927.90)">R-TCT-1-1</text>
<line x1="508.46" y1="914.00" x2="508.46" y2="919.80" stroke="#1a1a1a" stroke-width="1.15"/>
<text x="511.26" y="927.90" font-size="9.2" fill="#111" text-anchor="end" transform="rotate(-45 511.26 927.90)">K-TTT-1-1</text>
<line x1="523.50" y1="914.00" x2="523.50" y2="919.80" stroke="#1a1a1a" stroke-width="1.15"/>
<text x="526.30" y="927.90" font-size="9.2" fill="#111" text-anchor="end" transform="rotate(-45 526.30 927.90)">K-TTT-4-1</text>
<line x1="538.54" y1="914.00" x2="538.54" y2="919.80" stroke="#1a1a1a" stroke-width="1.15"/>
<text x="541.34" y="927.90" font-size="9.2" fill="#111" text-anchor="end" transform="rotate(-45 541.34 927.90)">K-TTT-9-1</text>
<line x1="553.58" y1="914.00" x2="553.58" y2="919.80" stroke="#1a1a1a" stroke-width="1.15"/>
<text x="556.38" y="927.90" font-size="9.2" fill="#111" text-anchor="end" transform="rotate(-45 556.38 927.90)">K-TTT-13-1</text>
<line x1="568.62" y1="914.00" x2="568.62" y2="919.80" stroke="#1a1a1a" stroke-width="1.15"/>
<text x="571.42" y="927.90" font-size="9.2" fill="#111" text-anchor="end" transform="rotate(-45 571.42 927.90)">K-TTT-7-1</text>
<line x1="583.66" y1="914.00" x2="583.66" y2="919.80" stroke="#1a1a1a" stroke-width="1.15"/>
<text x="586.46" y="927.90" font-size="9.2" fill="#111" text-anchor="end" transform="rotate(-45 586.46 927.90)">V-TAC-2-1</text>
<line x1="598.70" y1="914.00" x2="598.70" y2="919.80" stroke="#1a1a1a" stroke-width="1.15"/>
<text x="601.50" y="927.90" font-size="9.2" fill="#111" text-anchor="end" transform="rotate(-45 601.50 927.90)">H-GTG-2-1</text>
<line x1="613.74" y1="914.00" x2="613.74" y2="919.80" stroke="#1a1a1a" stroke-width="1.15"/>
<text x="616.54" y="927.90" font-size="9.2" fill="#111" text-anchor="end" transform="rotate(-45 616.54 927.90)">H-GTG-1-1</text>
<line x1="628.78" y1="914.00" x2="628.78" y2="919.80" stroke="#1a1a1a" stroke-width="1.15"/>
<text x="631.58" y="927.90" font-size="9.2" fill="#111" text-anchor="end" transform="rotate(-45 631.58 927.90)">Sec-TCA-1-1</text>
<line x1="643.82" y1="914.00" x2="643.82" y2="919.80" stroke="#1a1a1a" stroke-width="1.15"/>
<text x="646.62" y="927.90" font-size="9.2" fill="#111" text-anchor="end" transform="rotate(-45 646.62 927.90)">Q-CTG-6-1</text>
<line x1="658.86" y1="914.00" x2="658.86" y2="919.80" stroke="#1a1a1a" stroke-width="1.15"/>
<text x="661.66" y="927.90" font-size="9.2" fill="#111" text-anchor="end" transform="rotate(-45 661.66 927.90)">Y-ATA-1-1</text>
<line x1="363.20" y1="881.42" x2="670.80" y2="881.42" stroke="#e8211f" stroke-width="0.95" stroke-dasharray="2.2 1.3"/>
<text x="516.60" y="777.80" font-size="10.8" fill="#111" text-anchor="middle">Overexpression of non-optimal tRNAs</text>
<text x="345.50" y="848.80" font-size="10.7" fill="#111" text-anchor="middle" transform="rotate(-90 345.50 848.80)">Fold change of Spike protein</text>
<circle cx="369.50" cy="881.42" r="1.30" fill="none" stroke="#000" stroke-width="0.65"/>
<circle cx="373.10" cy="881.42" r="1.30" fill="none" stroke="#000" stroke-width="0.65"/>
<circle cx="376.70" cy="881.42" r="1.30" fill="none" stroke="#000" stroke-width="0.65"/>
<line x1="388.14" y1="804.21" x2="388.14" y2="823.75" stroke="#000" stroke-width="0.85"/>
<line x1="385.94" y1="804.21" x2="390.34" y2="804.21" stroke="#000" stroke-width="0.85"/>
<line x1="385.94" y1="823.75" x2="390.34" y2="823.75" stroke="#000" stroke-width="0.85"/>
<rect x="383.57" y="819.00" width="2.34" height="2.34" fill="none" stroke="#000" stroke-width="0.65"/>
<circle cx="391.54" cy="818.87" r="1.30" fill="none" stroke="#000" stroke-width="0.65"/>
<polygon points="388.14,802.97 389.90,806.16 386.39,806.16" fill="none" stroke="#000" stroke-width="0.55"/>
<line x1="403.18" y1="855.36" x2="403.18" y2="863.18" stroke="#000" stroke-width="0.85"/>
<line x1="400.98" y1="855.36" x2="405.38" y2="855.36" stroke="#000" stroke-width="0.85"/>
<line x1="400.98" y1="863.18" x2="405.38" y2="863.18" stroke="#000" stroke-width="0.85"/>
<rect x="398.61" y="854.84" width="2.34" height="2.34" fill="none" stroke="#000" stroke-width="0.65"/>
<circle cx="406.58" cy="857.96" r="1.30" fill="none" stroke="#000" stroke-width="0.65"/>
<polygon points="403.18,860.64 404.94,863.82 401.43,863.82" fill="none" stroke="#000" stroke-width="0.55"/>
<line x1="418.22" y1="871.65" x2="418.22" y2="886.96" stroke="#000" stroke-width="0.85"/>
<line x1="416.02" y1="871.65" x2="420.42" y2="871.65" stroke="#000" stroke-width="0.85"/>
<line x1="416.02" y1="886.96" x2="420.42" y2="886.96" stroke="#000" stroke-width="0.85"/>
<rect x="413.65" y="871.45" width="2.34" height="2.34" fill="none" stroke="#000" stroke-width="0.65"/>
<circle cx="421.82" cy="875.88" r="1.30" fill="none" stroke="#000" stroke-width="0.65"/>
<polygon points="418.22,884.10 419.98,887.28 416.47,887.28" fill="none" stroke="#000" stroke-width="0.55"/>
<line x1="433.26" y1="854.05" x2="433.26" y2="869.37" stroke="#000" stroke-width="0.85"/>
<line x1="431.06" y1="854.05" x2="435.46" y2="854.05" stroke="#000" stroke-width="0.85"/>
<line x1="431.06" y1="869.37" x2="435.46" y2="869.37" stroke="#000" stroke-width="0.85"/>
<rect x="428.69" y="854.84" width="2.34" height="2.34" fill="none" stroke="#000" stroke-width="0.65"/>
<circle cx="436.86" cy="857.96" r="1.30" fill="none" stroke="#000" stroke-width="0.65"/>
<polygon points="433.26,866.50 435.01,869.69 431.50,869.69" fill="none" stroke="#000" stroke-width="0.55"/>
<line x1="448.30" y1="879.79" x2="448.30" y2="900.64" stroke="#000" stroke-width="0.85"/>
<line x1="446.10" y1="879.79" x2="450.50" y2="879.79" stroke="#000" stroke-width="0.85"/>
<line x1="446.10" y1="900.64" x2="450.50" y2="900.64" stroke="#000" stroke-width="0.85"/>
<rect x="443.73" y="895.56" width="2.34" height="2.34" fill="none" stroke="#000" stroke-width="0.65"/>
<circle cx="451.90" cy="895.76" r="1.30" fill="none" stroke="#000" stroke-width="0.65"/>
<polygon points="448.30,878.56 450.06,881.74 446.55,881.74" fill="none" stroke="#000" stroke-width="0.55"/>
<line x1="463.34" y1="877.84" x2="463.34" y2="895.76" stroke="#000" stroke-width="0.85"/>
<line x1="461.14" y1="877.84" x2="465.54" y2="877.84" stroke="#000" stroke-width="0.85"/>
<line x1="461.14" y1="895.76" x2="465.54" y2="895.76" stroke="#000" stroke-width="0.85"/>
<rect x="458.77" y="880.25" width="2.34" height="2.34" fill="none" stroke="#000" stroke-width="0.65"/>
<circle cx="466.94" cy="881.42" r="1.30" fill="none" stroke="#000" stroke-width="0.65"/>
<polygon points="463.34,893.22 465.10,896.40 461.59,896.40" fill="none" stroke="#000" stroke-width="0.55"/>
<line x1="478.38" y1="865.78" x2="478.38" y2="877.18" stroke="#000" stroke-width="0.85"/>
<line x1="476.18" y1="865.78" x2="480.58" y2="865.78" stroke="#000" stroke-width="0.85"/>
<line x1="476.18" y1="877.18" x2="480.58" y2="877.18" stroke="#000" stroke-width="0.85"/>
<rect x="473.81" y="866.57" width="2.34" height="2.34" fill="none" stroke="#000" stroke-width="0.65"/>
<circle cx="481.98" cy="868.39" r="1.30" fill="none" stroke="#000" stroke-width="0.65"/>
<polygon points="478.38,874.00 480.13,877.18 476.62,877.18" fill="none" stroke="#000" stroke-width="0.55"/>
<line x1="493.42" y1="848.19" x2="493.42" y2="867.74" stroke="#000" stroke-width="0.85"/>
<line x1="491.22" y1="848.19" x2="495.62" y2="848.19" stroke="#000" stroke-width="0.85"/>
<line x1="491.22" y1="867.74" x2="495.62" y2="867.74" stroke="#000" stroke-width="0.85"/>
<rect x="488.85" y="863.31" width="2.34" height="2.34" fill="none" stroke="#000" stroke-width="0.65"/>
<circle cx="497.02" cy="863.18" r="1.30" fill="none" stroke="#000" stroke-width="0.65"/>
<polygon points="493.42,846.96 495.18,850.14 491.67,850.14" fill="none" stroke="#000" stroke-width="0.55"/>
<line x1="508.46" y1="871.32" x2="508.46" y2="881.42" stroke="#000" stroke-width="0.85"/>
<line x1="506.26" y1="871.32" x2="510.66" y2="871.32" stroke="#000" stroke-width="0.85"/>
<line x1="506.26" y1="881.42" x2="510.66" y2="881.42" stroke="#000" stroke-width="0.85"/>
<rect x="503.89" y="878.62" width="2.34" height="2.34" fill="none" stroke="#000" stroke-width="0.65"/>
<circle cx="512.06" cy="879.79" r="1.30" fill="none" stroke="#000" stroke-width="0.65"/>
<polygon points="508.46,869.76 510.22,872.95 506.71,872.95" fill="none" stroke="#000" stroke-width="0.55"/>
<line x1="523.50" y1="872.62" x2="523.50" y2="884.03" stroke="#000" stroke-width="0.85"/>
<line x1="521.30" y1="872.62" x2="525.70" y2="872.62" stroke="#000" stroke-width="0.85"/>
<line x1="521.30" y1="884.03" x2="525.70" y2="884.03" stroke="#000" stroke-width="0.85"/>
<circle cx="523.50" cy="879.79" r="1.30" fill="none" stroke="#000" stroke-width="0.65"/>
<polygon points="523.50,872.37 525.25,875.55 521.75,875.55" fill="none" stroke="#000" stroke-width="0.55"/>
<polygon points="523.50,880.51 525.19,882.40 523.50,884.28 521.81,882.40" fill="none" stroke="#000" stroke-width="0.55"/>
<line x1="538.54" y1="845.91" x2="538.54" y2="877.84" stroke="#000" stroke-width="0.85"/>
<line x1="536.34" y1="845.91" x2="540.74" y2="845.91" stroke="#000" stroke-width="0.85"/>
<line x1="536.34" y1="877.84" x2="540.74" y2="877.84" stroke="#000" stroke-width="0.85"/>
<circle cx="538.54" cy="847.21" r="1.30" fill="none" stroke="#000" stroke-width="0.65"/>
<circle cx="538.54" cy="873.27" r="1.30" fill="none" stroke="#000" stroke-width="0.65"/>
<circle cx="538.54" cy="876.53" r="1.30" fill="none" stroke="#000" stroke-width="0.65"/>
<line x1="553.58" y1="837.76" x2="553.58" y2="904.55" stroke="#000" stroke-width="0.85"/>
<line x1="551.38" y1="837.76" x2="555.78" y2="837.76" stroke="#000" stroke-width="0.85"/>
<line x1="551.38" y1="904.55" x2="555.78" y2="904.55" stroke="#000" stroke-width="0.85"/>
<circle cx="553.58" cy="834.18" r="1.30" fill="none" stroke="#000" stroke-width="0.65"/>
<circle cx="553.58" cy="887.94" r="1.30" fill="none" stroke="#000" stroke-width="0.65"/>
<circle cx="553.58" cy="892.82" r="1.30" fill="none" stroke="#000" stroke-width="0.65"/>
<line x1="568.62" y1="843.30" x2="568.62" y2="904.55" stroke="#000" stroke-width="0.85"/>
<line x1="566.42" y1="843.30" x2="570.82" y2="843.30" stroke="#000" stroke-width="0.85"/>
<line x1="566.42" y1="904.55" x2="570.82" y2="904.55" stroke="#000" stroke-width="0.85"/>
<circle cx="568.62" cy="843.95" r="1.30" fill="none" stroke="#000" stroke-width="0.65"/>
<circle cx="568.62" cy="881.42" r="1.30" fill="none" stroke="#000" stroke-width="0.65"/>
<circle cx="568.62" cy="900.97" r="1.30" fill="none" stroke="#000" stroke-width="0.65"/>
<line x1="583.66" y1="880.44" x2="583.66" y2="899.01" stroke="#000" stroke-width="0.85"/>
<line x1="581.46" y1="880.44" x2="585.86" y2="880.44" stroke="#000" stroke-width="0.85"/>
<line x1="581.46" y1="899.01" x2="585.86" y2="899.01" stroke="#000" stroke-width="0.85"/>
<circle cx="583.66" cy="881.42" r="1.30" fill="none" stroke="#000" stroke-width="0.65"/>
<circle cx="583.66" cy="886.31" r="1.30" fill="none" stroke="#000" stroke-width="0.65"/>
<polygon points="583.66,895.83 585.42,899.01 581.91,899.01" fill="none" stroke="#000" stroke-width="0.55"/>
<line x1="598.70" y1="824.40" x2="598.70" y2="843.30" stroke="#000" stroke-width="0.85"/>
<line x1="596.50" y1="824.40" x2="600.90" y2="824.40" stroke="#000" stroke-width="0.85"/>
<line x1="596.50" y1="843.30" x2="600.90" y2="843.30" stroke="#000" stroke-width="0.85"/>
<circle cx="598.70" cy="826.03" r="1.30" fill="none" stroke="#000" stroke-width="0.65"/>
<polygon points="598.70,830.01 600.39,831.90 598.70,833.78 597.01,831.90" fill="none" stroke="#000" stroke-width="0.55"/>
<polygon points="598.70,840.44 600.46,843.62 596.95,843.62" fill="none" stroke="#000" stroke-width="0.55"/>
<line x1="613.74" y1="860.24" x2="613.74" y2="883.05" stroke="#000" stroke-width="0.85"/>
<line x1="611.54" y1="860.24" x2="615.94" y2="860.24" stroke="#000" stroke-width="0.85"/>
<line x1="611.54" y1="883.05" x2="615.94" y2="883.05" stroke="#000" stroke-width="0.85"/>
<polygon points="613.74,859.34 615.50,862.52 611.99,862.52" fill="none" stroke="#000" stroke-width="0.55"/>
<circle cx="613.74" cy="871.65" r="1.30" fill="none" stroke="#000" stroke-width="0.65"/>
<polygon points="613.74,880.19 615.43,882.07 613.74,883.96 612.05,882.07" fill="none" stroke="#000" stroke-width="0.55"/>
<line x1="628.78" y1="879.47" x2="628.78" y2="902.92" stroke="#000" stroke-width="0.85"/>
<line x1="626.58" y1="879.47" x2="630.98" y2="879.47" stroke="#000" stroke-width="0.85"/>
<line x1="626.58" y1="902.92" x2="630.98" y2="902.92" stroke="#000" stroke-width="0.85"/>
<circle cx="628.78" cy="879.79" r="1.30" fill="none" stroke="#000" stroke-width="0.65"/>
<circle cx="628.78" cy="894.45" r="1.30" fill="none" stroke="#000" stroke-width="0.65"/>
<polygon points="628.78,899.08 630.53,902.27 627.02,902.27" fill="none" stroke="#000" stroke-width="0.55"/>
<line x1="643.82" y1="872.62" x2="643.82" y2="883.05" stroke="#000" stroke-width="0.85"/>
<line x1="641.62" y1="872.62" x2="646.02" y2="872.62" stroke="#000" stroke-width="0.85"/>
<line x1="641.62" y1="883.05" x2="646.02" y2="883.05" stroke="#000" stroke-width="0.85"/>
<rect x="639.25" y="873.73" width="2.34" height="2.34" fill="none" stroke="#000" stroke-width="0.65"/>
<circle cx="647.42" cy="874.25" r="1.30" fill="none" stroke="#000" stroke-width="0.65"/>
<polygon points="643.82,880.51 645.57,883.70 642.06,883.70" fill="none" stroke="#000" stroke-width="0.55"/>
<line x1="658.86" y1="898.04" x2="658.86" y2="909.76" stroke="#000" stroke-width="0.85"/>
<line x1="656.66" y1="898.04" x2="661.06" y2="898.04" stroke="#000" stroke-width="0.85"/>
<line x1="656.66" y1="909.76" x2="661.06" y2="909.76" stroke="#000" stroke-width="0.85"/>
<circle cx="658.86" cy="898.69" r="1.30" fill="none" stroke="#000" stroke-width="0.65"/>
<circle cx="658.86" cy="904.23" r="1.30" fill="none" stroke="#000" stroke-width="0.65"/>
<polygon points="658.86,906.25 660.62,909.44 657.11,909.44" fill="none" stroke="#000" stroke-width="0.55"/>
<text x="388.00" y="800.20" font-size="7.0" fill="#111" text-anchor="middle"><tspan font-style="italic">P</tspan> = 0.0138</text>
<text x="403.20" y="851.50" font-size="7.0" fill="#111" text-anchor="middle">ns</text>
<text x="418.20" y="868.30" font-size="7.0" fill="#111" text-anchor="middle">ns</text>
<text x="433.30" y="850.20" font-size="7.0" fill="#111" text-anchor="middle">ns</text>
<text x="448.30" y="876.40" font-size="7.0" fill="#111" text-anchor="middle">ns</text>
<text x="463.30" y="873.50" font-size="7.0" fill="#111" text-anchor="middle">ns</text>
<text x="478.40" y="861.20" font-size="7.0" fill="#111" text-anchor="middle">ns</text>
<text x="493.40" y="845.40" font-size="7.0" fill="#111" text-anchor="middle">ns</text>
<text x="508.50" y="868.30" font-size="7.0" fill="#111" text-anchor="middle">ns</text>
<text x="523.50" y="869.30" font-size="7.0" fill="#111" text-anchor="middle">ns</text>
<text x="538.50" y="842.70" font-size="7.0" fill="#111" text-anchor="middle">ns</text>
<text x="553.60" y="829.50" font-size="7.0" fill="#111" text-anchor="middle">ns</text>
<text x="568.60" y="840.00" font-size="7.0" fill="#111" text-anchor="middle">ns</text>
<text x="583.70" y="877.30" font-size="7.0" fill="#111" text-anchor="middle">ns</text>
<text x="598.70" y="821.40" font-size="7.0" fill="#111" text-anchor="middle">ns</text>
<text x="613.70" y="857.00" font-size="7.0" fill="#111" text-anchor="middle">ns</text>
<text x="628.80" y="875.70" font-size="7.0" fill="#111" text-anchor="middle">ns</text>
<text x="643.80" y="869.30" font-size="7.0" fill="#111" text-anchor="middle">ns</text>
<text x="658.90" y="894.90" font-size="7.0" fill="#111" text-anchor="middle">ns</text>
<text x="601.00" y="817.50" font-size="7.0" fill="#111" transform="rotate(-90 601.00 817.50)">(<tspan font-style="italic">P</tspan> = 0.018)</text>
</svg>
</body></html>
